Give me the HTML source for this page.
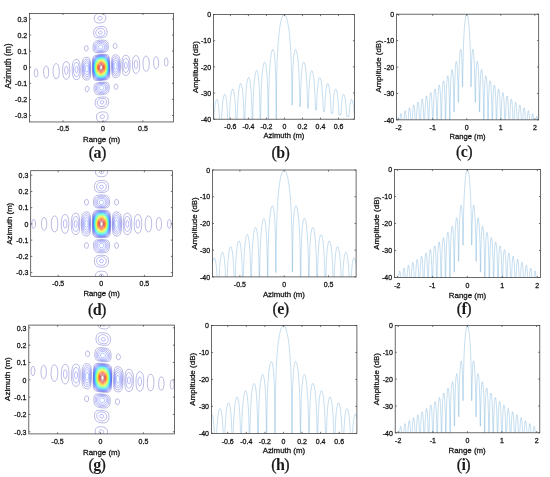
<!DOCTYPE html>
<html><head><meta charset="utf-8"><title>Figure</title>
<style>
html,body{margin:0;padding:0;background:#fff;}
svg{display:block;font-family:"Liberation Sans",sans-serif;fill:#141414;}
text{stroke:#141414;stroke-width:0.28px;}
.pr{font-weight:normal;font-size:16px;stroke:#1a1a1a;stroke-width:0.3px;}
.cap{stroke:none;letter-spacing:-0.65px;font-family:"Liberation Serif",serif;font-size:16px;font-weight:bold;fill:#1a1a1a;}
</style></head><body>
<svg width="550" height="477" viewBox="0 0 550 477">
<rect width="550" height="477" fill="#fff"/>
<rect x="29.55" y="13.45" width="144.05" height="108.5" fill="#fff"/>
<text x="63.08" y="131.45" text-anchor="middle" font-size="7.0">-0.5</text>
<text x="103" y="131.45" text-anchor="middle" font-size="7.0">0</text>
<text x="142.93" y="131.45" text-anchor="middle" font-size="7.0">0.5</text>
<text x="27.15" y="118.22" text-anchor="end" font-size="7.0">-0.3</text>
<text x="27.15" y="102.13" text-anchor="end" font-size="7.0">-0.2</text>
<text x="27.15" y="86.04" text-anchor="end" font-size="7.0">-0.1</text>
<text x="27.15" y="69.95" text-anchor="end" font-size="7.0">0</text>
<text x="27.15" y="53.86" text-anchor="end" font-size="7.0">0.1</text>
<text x="27.15" y="37.77" text-anchor="end" font-size="7.0">0.2</text>
<text x="27.15" y="21.68" text-anchor="end" font-size="7.0">0.3</text>
<path d="M63.08 121.95v-1.6M63.08 13.45v1.6M103 121.95v-1.6M103 13.45v1.6M142.93 121.95v-1.6M142.93 13.45v1.6M29.55 115.47h1.6M173.6 115.47h-1.6M29.55 99.38h1.6M173.6 99.38h-1.6M29.55 83.29h1.6M173.6 83.29h-1.6M29.55 67.2h1.6M173.6 67.2h-1.6M29.55 51.11h1.6M173.6 51.11h-1.6M29.55 35.02h1.6M173.6 35.02h-1.6M29.55 18.93h1.6M173.6 18.93h-1.6" stroke="#3a3a3a" stroke-width="0.7" fill="none"/>
<text x="101.6" y="141.6" text-anchor="middle" font-size="7.9">Range (m)</text>
<text transform="translate(11.1 66.05) rotate(-90)" text-anchor="middle" font-size="8.35">Azimuth (m)</text>
<text x="97.2" y="157.6" text-anchor="middle" class="cap"><tspan class="pr">(</tspan>a<tspan class="pr">)</tspan></text>
<clipPath id="ca"><rect x="29.55" y="13.45" width="144.05" height="108.5"/></clipPath>
<g clip-path="url(#ca)"><g transform="scale(0.1)" fill="none" stroke-width="2.5">
<path d="M1006 1218l12 0 13-1 11-2 11-4 9-5 6-7 6-7 4-10 2-12 0-13-2-12-4-9-6-7-8-5-10-3-13-2-12 0-13 1-13 3-10 4-8 5-6 5-5 8-3 8-2 11 0 12 2 12 5 11 5 7 8 6 9 4zM994 1083l15 1 14-1 16-2 13-4 10-5 9-6 6-8 4-8 4-14 2-15-1-16-4-14-6-9-8-6-11-4-13-2-15 0-16 1-16 2-12 3-10 4-7 5-7 6-4 8-4 14-1 16 1 15 5 14 6 10 7 7 10 5zM987 948l17 0 19-1 18-3 14-3 11-5 8-5 7-7 5-9 5-17 2-20-1-23-5-16-5-8-8-6-12-3-17-1-40 2-19 3-14 3-10 3-7 4-6 5-5 8-4 15-1 20 2 22 5 17 6 10 8 7 12 5zM868 917l8 0 4-2 3-3 5-8 2-9 0-12-2-10-5-6-7-3-8 1-7 4-5 7-3 9 0 12 3 9 5 7zM1153 892l8 1 8-3 6-7 3-10 1-11-1-9-5-8-7-4-7-1-8 2-5 5-3 8-2 11 2 12 5 9zM963 805l18 1 28-1 28-3 23-4 13-4 9-6 7-6 4-10 3-10 2-14 2-42-2-72-4-48-4-18-3-8-3-5-5-4-5-3-14-4-19-1-26 1-29 3-22 4-13 4-9 5-7 7-5 9-3 10-2 14-2 41 2 71 4 50 4 20 2 6 4 6 5 5 5 3zM860 800l12 0 12-2 8-5 5-7 4-7 3-13 2-15 1-22 0-40-1-42-3-30-3-20-5-12-7-7-9-5-13 0-11 2-12 4-8 7-5 8-5 11-3 14-2 18-2 22 0 34 2 33 3 25 4 18 5 13 7 9 9 6zM758 796l9 0 9-2 8-4 7-8 4-9 4-11 2-14 1-19 1-28-1-31-3-26-3-19-4-12-6-10-8-6-10-3-9 1-10 3-8 6-6 9-5 9-3 12-3 16-2 18 0 27 1 28 3 23 4 17 5 13 6 10 8 6zM656 791l8 1 8-1 6-4 7-7 5-8 3-10 3-14 1-17 1-24-1-23-2-20-3-17-4-13-6-9-7-6-8-3-8 0-8 3-6 4-6 8-5 10-3 10-3 14-1 16-1 20 1 22 2 18 3 17 5 13 5 9 6 7zM557 786l6 1 6-1 7-4 5-6 5-9 3-10 3-26 1-18-1-18-2-16-3-14-3-9-5-9-6-7-7-3-6 0-7 2-6 5-5 6-4 9-3 9-2 13-2 14 0 32 2 16 3 14 4 11 5 9 5 6zM457 780l5 1 5-1 5-3 5-5 3-6 3-9 3-22 0-27-4-24-3-9-4-7-5-5-5-2-4-1-5 2-5 3-5 6-3 7-3 8-4 21 1 25 3 23 4 10 4 7 5 5zM1144 776l10 1 12-2 11-4 8-5 6-8 5-9 4-11 2-14 2-26 1-36-2-37-3-28-4-18-6-13-7-9-9-6-10-2-11-1-11 3-8 3-6 6-4 6-4 9-2 13-2 28 0 40 1 47 3 32 4 19 5 11 6 7zM359 771l4 0 3-1 3-3 3-4 5-12 2-16-1-17-3-15-3-7-3-5-3-2-3-2-3 0-4 2-3 3-4 4-4 13-2 15 1 17 3 14 6 11 3 4zM1250 754l9 1 9-2 9-4 7-6 5-8 5-11 3-12 2-16 2-24 0-28-2-27-3-21-5-16-5-11-7-9-8-5-9-2-10 0-8 3-7 5-6 7-4 9-3 11-2 15-2 27 0 31 2 29 3 25 4 16 5 11 7 7zM1359 734l8-2 8-4 7-6 5-8 4-10 3-12 2-16 1-17 0-20-2-20-2-18-4-15-4-11-6-9-7-6-8-3-8 0-8 3-6 4-7 9-4 10-3 13-2 15-1 17 0 23 1 22 3 20 4 14 4 11 6 9 8 5zM1459 712l6-1 7-2 6-6 5-8 4-9 2-11 3-28 0-17-1-17-2-14-4-13-4-9-5-7-6-6-6-2-7 0-6 2-7 6-4 7-4 9-3 11-3 30 2 34 2 15 3 13 4 9 5 7 6 5zM1559 689l6-1 4-2 5-4 4-6 6-15 3-24-1-24-4-22-3-8-5-8-5-4-4-3-5 0-5 1-5 4-5 6-3 7-3 10-3 23 1 27 5 22 3 8 4 6 6 5zM1657 661l4 1 3 0 3-2 4-4 6-11 2-14 1-17-3-17-5-12-3-4-4-2-3-1-3 0-3 2-3 3-5 9-3 16-1 17 2 16 5 13 3 4zM963 527l15 1 21 0 22-2 20-3 13-4 9-3 7-4 6-7 3-6 2-6 3-15-1-22-3-20-5-13-6-9-9-7-11-4-13-2-18 0-19 1-19 3-13 4-11 4-8 6-7 7-6 14-4 17-1 22 2 20 4 13 6 7 9 5zM858 509l8 0 6-3 5-5 4-9 0-13-2-11-5-8-6-4-8 1-7 3-6 8-3 10 0 10 2 10 6 7zM1143 484l7 1 8-2 6-5 5-8 1-11-1-10-4-9-6-6-8-2-6 1-7 6-4 7-2 11 1 13 4 8zM971 378l14 1 16 0 17-2 15-3 11-4 9-4 7-6 4-7 5-12 2-14 0-16-4-15-5-11-6-8-9-6-11-4-13-2-14 0-16 2-15 3-11 4-9 5-8 6-5 8-6 12-3 16 0 17 3 14 5 11 7 7 8 5zM980 134l-9 4-8 4-7 6-5 7-4 7-3 10-2 11 1 10 2 10 3 7 4 7 5 4 7 4 8 3 19 2 22-2 10-2 10-3 7-5 6-4 5-7 3-6 3-9 1-11 0-11-3-11-3-8-6-7-5-5-9-4" stroke="#00009f" stroke-width="2.7"/>
<path d="M1014 1185l9 1 8-2 7-5 5-6 1-8-1-8-6-6-6-3-8-1-10 3-6 4-5 7-1 7 2 8 5 6zM1003 1064l9 2 9-1 10-1 8-3 8-4 6-6 5-5 4-8 3-9 1-10-1-9-3-8-4-6-6-5-8-4-8-2-10-1-9 1-10 1-10 3-7 4-6 5-5 6-3 6-3 9 0 10 1 9 3 8 4 6 7 6 6 3zM999 937l14 0 15-1 13-3 11-5 9-6 7-7 5-7 4-11 3-14 0-16-2-12-5-11-7-8-8-4-11-3-14-1-15 0-16 2-13 3-11 3-8 4-6 5-6 8-4 8-2 12 0 16 3 14 5 12 7 10 8 5 11 5zM982 800l22 1 24-3 19-3 16-5 11-7 7-7 7-11 3-13 3-14 1-18 1-47-2-51-2-19-3-15-7-18-5-7-4-5-7-4-6-2-19-3-21-1-24 3-20 3-16 5-11 7-8 8-5 9-4 14-3 14-1 17-1 48 2 51 2 19 3 16 7 17 3 6 5 5 7 4 6 3 10 2zM862 782l9 0 8-2 8-5 5-7 4-9 4-13 2-15 1-21 0-28-2-29-2-22-4-15-4-11-6-8-8-5-9-1-10 2-8 4-7 6-6 9-5 11-3 13-2 17-1 19 0 23 1 22 3 18 4 16 5 12 6 9 8 7zM759 765l6 1 6-1 7-4 4-6 4-7 3-10 4-25 0-17-1-18-2-14-3-14-3-9-5-8-4-5-7-3-6 0-5 2-6 4-5 6-4 8-3 9-4 25 0 30 1 14 3 13 4 10 4 9 5 5zM1146 757l8 1 10-1 8-4 8-7 5-8 5-11 3-12 3-15 1-22 0-25-2-23-3-21-4-14-6-12-7-9-8-5-8-2-9 0-8 3-7 5-5 7-3 7-3 12-2 13-2 23 0 30 2 29 3 22 3 16 5 11 5 7zM660 743l4 1 3-1 3-2 4-4 4-11 2-14 0-17-3-15-5-11-3-3-3-2-4 0-3 1-3 2-3 4-4 11-3 14 1 16 3 15 4 11zM1256 724l6 0 6-2 7-6 4-7 4-9 3-11 3-25-1-30-2-12-3-13-4-9-5-8-6-6-6-3-7 0-6 3-5 4-5 6-3 9-3 11-3 25 1 34 2 14 3 12 3 8 5 8 5 5zM1355 684l4 1 4 0 3-2 3-4 5-10 2-13 1-17-3-16-5-11-5-6-6-1-3 2-4 2-5 10-3 14 0 17 2 15 5 13zM987 521l15 0 16-2 15-2 11-4 8-4 7-5 5-6 4-8 3-12 0-16-2-14-5-12-6-9-8-7-9-5-14-3-12 0-14 1-15 2-11 4-10 6-7 6-6 8-5 9-4 14 0 16 1 14 4 10 6 8 8 6 11 3zM988 364l9 1 12-1 9-2 8-3 8-4 6-5 5-6 3-6 2-9 0-10-2-9-3-8-4-6-7-6-7-3-9-3-9-1-10 1-10 2-8 3-6 4-7 6-4 6-4 8-2 8-1 9 1 9 3 8 5 6 6 5 8 4zM994 201l8 0 8-2 7-5 4-7 1-7-2-7-5-6-6-3-10-1-8 2-6 5-5 6-1 8 2 8 5 6z" stroke="#0000d1" stroke-width="2.7"/>
<path d="M1014 1039l7 1 7-3 5-4 4-6 1-6-2-7-5-4-6-3-8 0-7 3-5 3-3 6-1 6 2 7 4 4zM1006 926l11 0 11-2 9-3 9-4 7-6 6-7 5-7 3-10 1-11 0-10-3-10-4-7-6-6-8-4-10-3-11-1-11 1-11 1-11 3-9 4-7 5-5 5-4 7-3 8-1 11 1 10 2 10 5 9 6 7 8 5 10 4zM989 796l21 0 21-3 18-4 14-7 10-7 7-10 6-13 3-15 4-34 0-44-3-40-6-28-3-9-5-8-4-6-6-5-6-4-8-3-19-3-21 0-21 3-18 5-13 5-9 8-8 10-6 13-4 16-3 34 0 45 3 39 3 15 3 12 7 16 4 6 6 5 6 4 8 3zM867 765l7-1 6-3 6-7 4-8 4-11 2-14 2-35-3-37-3-13-4-11-4-8-5-5-7-3-8 0-6 2-6 5-7 7-4 10-3 11-3 14-2 31 3 31 3 14 4 11 5 8 5 5 7 5zM1150 740l8 0 6-1 6-5 6-7 5-7 4-11 4-25 1-17-1-17-2-17-2-14-5-13-5-9-5-6-7-5-7-2-6 1-7 3-5 5-4 8-4 8-4 25-1 19 1 22 1 18 3 17 4 11 4 10 5 5zM761 726l2 1 4 0 4-3 4-7 3-11 0-14-1-13-4-10-5-5-5-1-5 4-4 8-3 11 0 12 2 12 3 10zM1256 686l3 0 3-1 5-5 3-8 2-13 0-12-2-11-5-9-5-5-5 0-5 5-3 9-2 12 0 13 2 12 4 8zM991 513l11 1 11-1 12-3 10-3 7-4 7-5 5-6 3-8 2-10 0-10-2-11-4-10-6-7-6-6-8-4-12-3-11 0-11 1-10 2-9 4-8 6-6 6-6 8-3 7-2 11 0 11 2 11 3 8 6 6 7 5 8 3zM995 341l7 1 7-1 6-3 5-5 2-6-1-8-3-4-6-5-7-1-8 2-6 4-4 4-2 6 1 7 3 5z" stroke="#0000ff" stroke-width="2.7"/>
<path d="M1006 914l7 0 8-1 8-2 7-3 6-4 5-5 4-5 3-8 2-8-1-8-1-6-3-6-4-5-6-4-7-3-8-1-16 0-8 2-8 4-6 4-5 4-3 5-2 6-1 6 0 8 2 8 3 6 4 6 5 4 6 3zM991 791l19 0 19-2 18-5 13-6 9-8 8-10 5-13 4-16 4-31 0-39-3-36-5-26-7-17-5-7-5-5-7-5-6-3-18-4-19 0-19 2-16 4-15 6-9 7-9 11-6 12-4 17-4 31 0 39 3 36 5 28 8 17 4 6 6 6 6 4 8 4zM862 745l6 1 4-1 5-2 5-6 3-6 3-8 3-20 0-28-4-25-3-9-4-6-4-5-5-2-5-1-5 2-5 4-4 6-7 15-3 21 0 23 4 22 3 9 4 7 5 6zM1151 721l7 1 4-2 5-4 4-6 4-7 3-8 3-22 0-23-4-22-4-9-4-8-5-4-5-3-5-1-4 1-5 3-4 6-6 14-3 21 0 27 4 23 2 8 4 7 4 5zM994 504l16 0 9-2 7-2 7-4 5-4 4-5 3-6 1-7 0-7-1-8-3-7-4-6-5-4-5-3-8-3-8-1-8 0-8 2-7 2-6 4-5 5-5 6-3 6-2 8-1 8 2 8 2 6 4 5 6 4 6 3z" stroke="#0018ff" stroke-width="2.89"/>
<path d="M1009 898l9 0 8-2 7-6 5-7 1-8-2-8-6-6-7-3-9-1-10 3-7 6-4 6-1 9 3 8 6 6zM990 786l17 1 18-1 16-4 14-7 10-8 8-10 6-12 4-18 4-27 0-36-2-33-6-26-7-17-9-12-6-5-7-4-16-4-17-1-18 1-16 4-15 7-9 8-9 10-6 14-4 16-4 29 0 35 2 32 6 27 7 17 5 7 4 5 7 5 6 3zM864 721l4 1 3 0 5-4 4-9 2-13 1-15-3-14-4-11-5-5-3 0-4 1-4 4-5 11-2 12 0 14 2 12 4 10zM1153 698l3 0 3-1 5-5 4-10 2-12 0-14-2-12-4-11-5-5-3-1-3 0-3 2-4 4-3 9-2 12 0 16 2 14 5 10zM1001 492l9-1 9-3 6-4 4-8 1-8-2-8-7-6-8-3-9 0-8 3-7 5-4 8-1 7 2 8 6 6z" stroke="#0044ff" stroke-width="3.08"/>
<path d="M989 782l16 1 18-1 16-4 13-7 10-8 8-11 6-12 4-16 4-26 1-33-3-31-5-25-7-17-9-11-6-5-6-4-15-5-16-1-17 1-16 4-13 6-10 8-8 11-7 13-5 16-3 26-1 33 3 31 5 24 7 16 4 8 5 5 11 9z" stroke="#006cff" stroke-width="3.26"/>
<path d="M997 779l16 0 16-3 15-5 11-7 9-10 7-12 5-15 4-17 2-28-1-29-3-26-6-21-7-14-10-10-13-8-16-4-16 0-16 3-14 5-12 7-8 9-8 12-5 14-4 19-2 26 1 30 3 26 6 21 7 15 10 11 13 7z" stroke="#0094ff" stroke-width="3.45"/>
<path d="M993 774l16 1 16-2 14-4 11-7 10-9 7-12 6-13 3-16 3-25 0-26-3-25-5-22-7-15-9-12-11-7-15-5-14-1-16 2-14 4-12 7-9 9-8 10-5 14-4 16-3 25 0 26 2 25 5 22 7 15 9 12 11 8z" stroke="#00c0ff" stroke-width="3.64"/>
<path d="M999 771l14 0 15-2 13-6 11-8 8-9 7-12 5-14 3-17 2-25-1-25-3-22-6-18-7-14-10-10-11-7-14-4-15 0-14 2-13 5-11 8-8 9-7 12-6 16-3 17-2 25 1 24 3 22 6 19 8 13 9 11 12 6z" stroke="#02e8f4" stroke-width="3.83"/>
<path d="M995 766l14 2 14-2 13-5 11-7 8-8 7-11 6-14 4-15 2-22 0-23-3-22-5-19-6-14-8-10-11-9-13-4-13-2-14 2-13 4-12 7-9 9-7 11-5 13-3 15-3 22 0 23 3 23 5 19 6 14 9 11 11 8z" stroke="#23ffd4" stroke-width="4.01"/>
<path d="M1000 763l13 1 13-3 11-5 10-7 9-9 6-11 5-14 3-17 2-22-1-22-3-18-6-17-6-13-9-9-10-7-12-4-13-1-13 2-13 5-10 7-8 9-7 12-5 14-3 16-2 22 1 21 3 20 5 17 7 13 9 10 12 7z" stroke="#46ffb1" stroke-width="4.2"/>
<path d="M996 758l13 2 12-1 12-4 11-7 8-9 6-10 5-12 4-16 2-20 0-20-3-19-5-17-6-13-8-10-10-7-12-5-12-1-12 2-12 4-10 7-7 7-7 11-5 13-4 15-2 20 0 21 3 18 5 17 6 14 8 10 10 7z" stroke="#66ff90" stroke-width="4.2"/>
<path d="M1001 755l11 1 12-2 10-4 10-7 7-9 6-11 5-13 3-15 2-19-1-18-3-17-5-16-6-12-8-9-10-7-11-3-11-1-13 2-11 5-9 6-7 9-7 12-4 12-3 15-2 19 1 19 3 17 5 15 7 13 8 9 9 6z" stroke="#87ff70" stroke-width="4.2"/>
<path d="M998 751l11 1 11-1 10-3 10-7 7-7 6-10 5-12 4-14 2-17 0-17-3-17-4-16-6-12-7-10-10-7-9-4-12-1-11 1-9 4-10 6-8 9-6 10-4 10-4 14-2 17 0 18 3 17 4 15 6 12 7 10 9 7z" stroke="#aaff4d" stroke-width="4.2"/>
<path d="M1002 748l10 0 11-2 10-4 8-6 6-9 6-10 5-13 2-12 1-16 0-17-3-15-5-14-6-11-7-8-9-6-10-4-9 0-11 2-10 4-8 6-8 9-5 9-4 13-3 14-1 15 0 17 3 16 5 14 6 11 7 7 9 7z" stroke="#caff2c" stroke-width="4.2"/>
<path d="M1000 743l10 1 10-1 9-4 8-5 7-8 6-9 4-11 3-13 2-15-1-16-2-15-4-13-6-11-6-7-7-6-10-4-10-1-9 1-10 3-8 6-6 7-7 10-4 12-3 12-1 14 0 16 2 14 4 13 5 11 7 9 8 6z" stroke="#ebff0c" stroke-width="4.2"/>
<path d="M1005 740l8 0 10-2 8-4 7-7 6-7 5-10 4-10 2-13 1-14-1-14-3-14-4-11-5-9-7-8-8-5-8-3-10 0-8 1-8 4-8 6-7 8-5 9-4 13-2 12-1 14 1 14 2 13 5 12 5 9 8 8 8 5z" stroke="#ffdb00" stroke-width="4.2"/>
<path d="M1003 735l9 1 8-1 8-4 8-6 5-7 5-9 4-11 2-11 1-12-1-14-2-13-4-11-5-9-6-6-7-5-8-3-8-1-10 2-8 4-6 5-6 7-5 8-4 11-2 11-1 12 1 14 2 13 3 10 5 9 7 8 7 5z" stroke="#ffb600" stroke-width="4.2"/>
<path d="M1002 731l8 1 8-1 8-4 6-4 6-6 5-8 3-9 3-11 1-13 0-12-2-11-4-11-5-9-5-7-6-5-8-3-8-1-8 2-7 2-7 6-5 6-5 9-4 8-2 11-1 11 0 12 2 11 3 11 5 9 5 6 6 6z" stroke="#ff9100" stroke-width="4.2"/>
<path d="M1003 726l7 1 8-1 7-3 6-5 5-6 5-7 3-9 2-9 1-11 0-11-2-11-3-9-5-8-4-6-7-5-6-3-7-1-8 1-6 3-6 4-6 6-4 8-4 9-2 9-1 11 0 11 2 11 3 9 4 8 5 6 6 5z" stroke="#ff6800" stroke-width="4.2"/>
<path d="M1004 721l6 1 7-1 6-2 5-4 5-5 4-7 4-8 2-9 1-10-1-11-1-9-3-8-4-7-5-7-5-4-7-2-6-1-7 1-6 3-5 4-5 5-4 7-3 7-2 10 0 19 1 9 3 9 4 7 5 6 4 4z" stroke="#ff4300" stroke-width="4.2"/>
<path d="M1007 717l6 0 6-2 6-3 4-5 7-11 4-15-1-17-2-9-2-7-4-6-5-5-5-3-4-1-7-1-5 1-5 3-5 5-4 4-4 8-4 15 1 18 1 7 4 8 4 6 4 5 5 3z" stroke="#ff1e00" stroke-width="4.2"/>
<path d="M1006 710l6 1 5-1 8-5 6-9 4-14 1-14-3-13-7-11-5-3-3-2-5-1-4 0-5 2-5 4-7 9-4 14-1 15 4 13 6 10 5 4z" stroke="#da0000" stroke-width="4.2"/>
<path d="M1005 703l7 1 8-3 6-7 4-10 1-12-2-11-4-9-7-6-8-1-7 3-7 8-3 9-1 13 2 11 5 9z" stroke="#ad0000" stroke-width="4.2"/>
<path d="M1008 695l5 0 6-3 4-6 2-7 0-7-1-8-4-6-4-4-6 0-5 2-4 6-3 8 0 8 1 8 4 6z" stroke="#800000" stroke-width="4.2"/>
</g></g>
<rect x="29.55" y="13.45" width="144.05" height="108.5" fill="none" stroke="#3a3a3a" stroke-width="0.75"/>
<rect x="213.55" y="14.55" width="140.95" height="104.65" fill="#fff"/>
<text x="230.4" y="128.8" text-anchor="middle" font-size="7.0">-0.6</text>
<text x="248.42" y="128.8" text-anchor="middle" font-size="7.0">-0.4</text>
<text x="266.43" y="128.8" text-anchor="middle" font-size="7.0">-0.2</text>
<text x="284.45" y="128.8" text-anchor="middle" font-size="7.0">0</text>
<text x="302.47" y="128.8" text-anchor="middle" font-size="7.0">0.2</text>
<text x="320.48" y="128.8" text-anchor="middle" font-size="7.0">0.4</text>
<text x="338.5" y="128.8" text-anchor="middle" font-size="7.0">0.6</text>
<text x="211.15" y="17.3" text-anchor="end" font-size="7.0">0</text>
<text x="211.15" y="43.46" text-anchor="end" font-size="7.0">-10</text>
<text x="211.15" y="69.62" text-anchor="end" font-size="7.0">-20</text>
<text x="211.15" y="95.79" text-anchor="end" font-size="7.0">-30</text>
<text x="211.15" y="121.95" text-anchor="end" font-size="7.0">-40</text>
<path d="M230.4 119.2v-1.6M230.4 14.55v1.6M248.42 119.2v-1.6M248.42 14.55v1.6M266.43 119.2v-1.6M266.43 14.55v1.6M284.45 119.2v-1.6M284.45 14.55v1.6M302.47 119.2v-1.6M302.47 14.55v1.6M320.48 119.2v-1.6M320.48 14.55v1.6M338.5 119.2v-1.6M338.5 14.55v1.6M213.55 14.55h1.6M354.5 14.55h-1.6M213.55 40.71h1.6M354.5 40.71h-1.6M213.55 66.88h1.6M354.5 66.88h-1.6M213.55 93.04h1.6M354.5 93.04h-1.6M213.55 119.2h1.6M354.5 119.2h-1.6" stroke="#3a3a3a" stroke-width="0.7" fill="none"/>
<text x="283.9" y="138.3" text-anchor="middle" font-size="7.6">Azimuth (m)</text>
<text transform="translate(197.8 67) rotate(-90)" text-anchor="middle" font-size="7.85">Amplitude (dB)</text>
<text x="280.4" y="157.6" text-anchor="middle" class="cap"><tspan class="pr">(</tspan>b<tspan class="pr">)</tspan></text>
<clipPath id="cb"><rect x="213.55" y="14.55" width="140.95" height="104.65"/></clipPath>
<g clip-path="url(#cb)"><path transform="scale(0.1)" d="M2136 1222l1 0 6-98 4-40 4-33 4-25 4-17 5-10 2-3 2-1 3 1 2 3 4 11 4 19 4 26 7 72 5 95 17 0 6-119 4-46 4-38 4-32 5-24 5-14 3-4 3-1 2 1 3 4 5 14 4 22 4 32 4 39 3 47 6 118 0 1 13 0 6-140 4-56 4-47 5-38 5-27 6-17 2-5 3-1 3 2 3 4 5 17 5 28 5 39 3 45 4 57 5 139 10 0 6-166 4-64 4-52 5-45 6-33 3-11 3-9 3-5 3-1 2 1 3 4 5 14 5 24 4 33 5 53 4 69 3 78 2 110 8 0 3-110 3-81 3-70 5-63 5-52 6-38 3-14 4-10 3-6 4-2 3 1 2 5 6 19 5 31 5 41 4 61 4 79 3 93 2 113 0 3 6 0 2-125 3-91 4-88 4-70 6-60 6-44 4-16 3-12 4-7 2-2 1 0 4 2 3 6 3 9 3 14 6 37 4 50 5 74 3 86 2 97 2 140 5 0 2-139 2-114 4-98 4-84 6-70 7-52 4-19 4-14 4-9 2-2 2 0 3 2 4 7 3 11 3 17 6 46 5 60 4 81 3 102 2 121 2 151 0 3 2 0 2-173 3-143 3-114 5-96 6-83 8-64 4-23 5-17 4-10 2-3 3-1 1 1 2 2 4 8 4 14 3 19 5 52 5 74 3 80 3 99 1 144 2 234 1 0 2-291 3-192 5-167 8-136 6-65 6-57 6-49 8-42 8-33 9-24 4-9 5-6 4-4 5-1 4 0 4 3 4 5 4 7 8 20 8 29 7 36 7 42 6 49 5 55 9 118 6 144 4 172 2 224 3 1 0-8 1-141 3-115 2-90 4-74 5-55 5-41 3-14 3-10 4-6 1-1 2-1 4 4 4 9 4 14 4 19 7 49 6 68 5 81 3 93 3 106 2 128 6 1 0-1 2-110 3-99 3-78 5-63 4-41 5-31 3-11 3-7 3-4 3-1 3 3 4 6 3 11 3 15 6 40 6 54 4 63 4 75 3 90 2 104 8 2 1-3 2-97 3-86 4-67 5-52 4-32 5-23 5-13 3-4 2 0 3 2 3 5 6 22 6 33 5 46 4 53 4 65 6 165 10 2 5-141 4-54 4-45 4-37 5-26 5-16 3-4 3-1 3 2 3 4 5 18 5 29 5 39 5 48 3 53 6 145 13 3 6-123 3-47 4-39 4-32 5-23 5-13 2-3 3-1 3 2 2 4 5 16 5 26 5 33 4 44 4 49 5 120 16 3 6-107 3-41 3-32 4-27 5-20 5-12 2-2 3-1 2 2 2 4 5 13 5 22 4 29 7 78 6 107 19 4 6-91 6-63 4-23 4-17 4-9 3-3 2 0 2 1 2 3 5 12 4 18 4 24 7 66 6 94 22 4 6-74 6-53 4-20 4-14 4-8 1-1 3-1 2 2 2 2 4 10 3 14 4 21 7 54 6 79" fill="none" stroke="#0072BD" stroke-width="2.3000000000000003" stroke-linejoin="round"/></g>
<rect x="213.55" y="14.55" width="140.95" height="104.65" fill="none" stroke="#3a3a3a" stroke-width="0.75"/>
<rect x="396.6" y="14.2" width="142.1" height="105.65" fill="#fff"/>
<text x="398.65" y="129.75" text-anchor="middle" font-size="7.0">-2</text>
<text x="432.7" y="129.75" text-anchor="middle" font-size="7.0">-1</text>
<text x="466.75" y="129.75" text-anchor="middle" font-size="7.0">0</text>
<text x="500.8" y="129.75" text-anchor="middle" font-size="7.0">1</text>
<text x="534.85" y="129.75" text-anchor="middle" font-size="7.0">2</text>
<text x="394.2" y="16.95" text-anchor="end" font-size="7.0">0</text>
<text x="394.2" y="43.36" text-anchor="end" font-size="7.0">-10</text>
<text x="394.2" y="69.77" text-anchor="end" font-size="7.0">-20</text>
<text x="394.2" y="96.19" text-anchor="end" font-size="7.0">-30</text>
<text x="394.2" y="122.6" text-anchor="end" font-size="7.0">-40</text>
<path d="M398.65 119.85v-1.6M398.65 14.2v1.6M432.7 119.85v-1.6M432.7 14.2v1.6M466.75 119.85v-1.6M466.75 14.2v1.6M500.8 119.85v-1.6M500.8 14.2v1.6M534.85 119.85v-1.6M534.85 14.2v1.6M396.6 14.2h1.6M538.7 14.2h-1.6M396.6 40.61h1.6M538.7 40.61h-1.6M396.6 67.02h1.6M538.7 67.02h-1.6M396.6 93.44h1.6M538.7 93.44h-1.6M396.6 119.85h1.6M538.7 119.85h-1.6" stroke="#3a3a3a" stroke-width="0.7" fill="none"/>
<text x="467.5" y="139.4" text-anchor="middle" font-size="7.65">Range (m)</text>
<text transform="translate(380.6 66.4) rotate(-90)" text-anchor="middle" font-size="7.9">Amplitude (dB)</text>
<text x="463.9" y="157.2" text-anchor="middle" class="cap"><tspan class="pr">(</tspan>c<tspan class="pr">)</tspan></text>
<clipPath id="cc"><rect x="396.6" y="14.2" width="142.1" height="105.65"/></clipPath>
<g clip-path="url(#cc)"><path transform="scale(0.1)" d="M3966 1164l1-1 2 1 3 11 2 21 3 32 21 0 3-43 3-28 3-18 2-4 2 0 2 8 3 19 5 66 18 0 4-57 3-35 3-23 2-5 2-1 1 3 2 6 3 24 3 36 3 52 16 0 3-68 3-45 4-28 2-6 1-2 1 0 2 3 2 7 3 29 4 44 3 66 13 0 3-78 4-54 4-34 2-9 1-2 1-1 3 3 2 10 4 33 3 54 3 78 12 0 3-90 4-65 4-40 3-10 1-2 1 0 3 4 2 11 4 39 3 64 3 89 10 0 4-107 4-70 5-46 2-11 1-3 2-1 2 5 2 11 5 47 4 76 2 99 9 0 4-117 4-79 4-55 3-13 2-4 1-1 1 1 2 4 2 13 5 54 4 84 3 113 7 0 3-126 5-97 2-36 3-24 3-15 1-3 2-1 1 1 1 5 3 15 3 25 2 35 4 93 3 128 6 0 3-142 5-106 2-39 3-28 3-17 1-4 2-2 2 2 1 4 3 18 5 64 4 99 3 151 5 0 3-159 5-116 2-43 3-33 3-19 2-5 2-1 1 1 1 3 3 14 5 54 2 53 3 73 3 178 4 0 3-177 4-129 3-49 3-36 4-22 1-5 2-2 2 2 1 5 3 17 3 28 2 38 5 132 2 194 1 4 3 0 3-198 4-143 3-54 4-42 3-25 2-6 2-2 2 2 1 5 3 21 3 34 2 43 5 142 3 223 2 0 3-210 4-155 2-62 3-49 4-35 3-18 2-3 2 1 2 6 1 9 4 32 3 46 4 132 3 197 3 0 3-218 5-156 5-84 3-28 3-14 2-3 2 1 2 5 1 9 3 29 3 45 5 132 2 185 4 0 3-227 5-163 5-89 3-28 4-18 1-3 2-1 1 3 2 5 3 21 2 33 3 49 2 69 3 195 3 0 2-170 3-139 3-116 5-102 6-85 7-63 3-23 4-15 4-10 2-2 2-1 2 1 2 3 4 9 4 16 3 24 7 63 6 86 5 104 4 119 2 127 2 174 3 0 3-193 2-70 3-49 2-34 3-20 2-6 1-3 2 1 2 4 3 18 3 29 5 91 5 156 3 230 4 0 3-194 4-122 2-45 4-30 1-9 2-5 2-1 2 3 3 14 3 27 5 84 5 154 3 214 0 7 3 0 3-195 4-132 3-47 3-32 2-10 2-6 2-1 2 4 3 18 4 33 3 49 2 61 4 154 3 213 2 0 1-4 2-216 5-149 2-42 3-33 3-20 2-5 1-1 2 2 2 6 3 25 4 41 3 54 4 141 3 201 3 0 3-196 2-76 3-61 2-37 3-27 3-17 1-4 2-2 2 2 1 5 4 22 3 35 2 49 5 128 3 179 4 0 4-184 4-119 5-55 3-14 1-3 2-1 1 1 2 6 3 19 3 35 3 43 4 111 3 161 5 0 0-2 3-138 4-109 5-65 3-17 1-5 2-2 2 2 1 4 3 18 3 29 3 40 4 101 3 144 6 0 3-134 4-90 3-34 2-25 3-14 1-4 2-1 1 1 1 4 3 16 3 24 3 37 4 92 3 128 7 0 4-118 3-82 5-52 3-13 1-3 1-1 2 1 1 4 3 15 4 52 4 85 4 112 9 0 3-103 3-71 5-47 2-12 1-3 2-2 1 2 1 3 3 11 4 48 4 71 3 103 11 0 0-1 3-87 3-64 5-41 2-11 1-3 1 0 3 3 2 11 4 41 4 66 3 86 12 0 3-77 3-54 4-35 3-9 2-3 2 3 2 8 4 34 4 54 3 79 14 0 2-65 4-47 4-29 1-6 2-2 2 2 2 7 4 29 3 46 3 65 16 0 3-51 3-39 3-23 2-6 2-2 2 2 1 6 4 22 3 37 3 54 18 0 5-69 3-18 1-4 2-2 2 1 1 4 3 18 6 70 21 0 5-48 2-13 1-3 2-1 1 1 1 3 3 12 5 49 8 0" fill="none" stroke="#0072BD" stroke-width="2.3000000000000003" stroke-linejoin="round"/></g>
<rect x="396.6" y="14.2" width="142.1" height="105.65" fill="none" stroke="#3a3a3a" stroke-width="0.75"/>
<rect x="30.7" y="170.7" width="141.7" height="105.65" fill="#fff"/>
<text x="58.2" y="286.2" text-anchor="middle" font-size="7.0">-0.5</text>
<text x="101.3" y="286.2" text-anchor="middle" font-size="7.0">0</text>
<text x="144.4" y="286.2" text-anchor="middle" font-size="7.0">0.5</text>
<text x="28.3" y="275.34" text-anchor="end" font-size="7.0">-0.3</text>
<text x="28.3" y="259.11" text-anchor="end" font-size="7.0">-0.2</text>
<text x="28.3" y="242.88" text-anchor="end" font-size="7.0">-0.1</text>
<text x="28.3" y="226.65" text-anchor="end" font-size="7.0">0</text>
<text x="28.3" y="210.42" text-anchor="end" font-size="7.0">0.1</text>
<text x="28.3" y="194.19" text-anchor="end" font-size="7.0">0.2</text>
<text x="28.3" y="177.96" text-anchor="end" font-size="7.0">0.3</text>
<path d="M58.2 276.35v-1.6M58.2 170.7v1.6M101.3 276.35v-1.6M101.3 170.7v1.6M144.4 276.35v-1.6M144.4 170.7v1.6M30.7 272.59h1.6M172.4 272.59h-1.6M30.7 256.36h1.6M172.4 256.36h-1.6M30.7 240.13h1.6M172.4 240.13h-1.6M30.7 223.9h1.6M172.4 223.9h-1.6M30.7 207.67h1.6M172.4 207.67h-1.6M30.7 191.44h1.6M172.4 191.44h-1.6M30.7 175.21h1.6M172.4 175.21h-1.6" stroke="#3a3a3a" stroke-width="0.7" fill="none"/>
<text x="101.6" y="295.9" text-anchor="middle" font-size="7.7">Range (m)</text>
<text transform="translate(11.8 223.7) rotate(-90)" text-anchor="middle" font-size="7.75">Azimuth (m)</text>
<text x="96.9" y="314.9" text-anchor="middle" class="cap"><tspan class="pr">(</tspan>d<tspan class="pr">)</tspan></text>
<clipPath id="cd"><rect x="30.7" y="170.7" width="141.7" height="105.65"/></clipPath>
<g clip-path="url(#cd)"><g transform="scale(0.1)" fill="none" stroke-width="2.5">
<path d="M1076 2764l-1-13-3-10-4-9-7-8-8-6-10-3-13-3-15-1-14 1-13 2-11 5-8 5-7 8-4 9-3 10-1 13M1006 2673l17 0 15-2 13-3 11-5 8-7 7-9 5-10 2-13 2-16-2-15-3-12-7-11-7-7-11-5-14-3-18-2-17 0-18 2-12 2-11 5-8 6-6 7-4 9-3 12-1 16 2 17 5 14 6 10 8 8 11 6 13 4zM992 2528l20 1 18-1 18-2 13-3 10-4 8-6 6-8 5-11 4-19 1-23-2-21-4-14-7-9-10-6-15-3-19-3-42 0-18 2-14 2-9 4-7 4-5 6-4 8-4 18 0 24 3 21 6 17 7 11 10 7 14 5zM864 2484l7-1 7-6 4-9 2-11-1-12-3-9-6-6-7-3-8 1-8 6-4 8-2 10 1 12 3 9 7 8zM1163 2484l8-1 6-5 5-8 3-10 0-12-3-9-5-7-8-4-8 0-4 1-4 3-4 7-3 10 1 14 3 10 5 7 3 2zM991 2377l27 0 27-1 19-2 14-4 9-5 7-7 5-10 3-14 2-18 2-24 1-70-2-56-2-18-3-13-3-9-3-7-5-5-7-4-7-3-10-3-25-3-27 0-27 1-19 2-14 3-9 5-8 8-4 9-4 13-2 18-2 23-1 71 2 58 2 18 3 13 3 9 3 6 5 5 6 5 8 3 9 3zM862 2360l12-1 11-4 8-7 5-11 4-15 2-23 2-33 0-39-2-57-3-19-4-13-5-10-8-6-11-3-13-1-12 3-11 6-8 9-6 11-4 16-3 22-2 28 0 34 0 30 2 24 4 18 4 15 6 11 8 7 11 6zM1162 2360l12-1 11-3 9-5 7-8 5-10 4-13 3-16 2-21 1-35 0-38-2-28-4-23-4-15-7-11-9-9-12-4-12-2-11 1-9 3-7 5-5 8-4 10-2 14-2 20-2 40 0 49 2 35 3 24 4 14 6 10 5 4 5 2zM748 2345l10 1 9-1 8-4 7-7 5-9 4-11 3-16 2-20 1-31 0-34-2-27-4-20-4-13-6-11-9-7-9-3-12 0-9 3-8 6-6 8-5 10-4 14-3 15-2 19-1 27 1 29 2 24 3 20 5 15 6 11 8 7zM1263 2345l10 1 10-1 8-4 7-7 6-9 5-10 3-14 3-18 2-27 0-29-2-27-3-23-4-15-5-12-8-9-9-7-10-2-9 0-8 3-8 5-6 8-4 9-3 13-3 16-2 29 0 35 1 30 3 24 4 17 5 11 8 8zM650 2333l8-1 8-4 7-7 6-11 3-12 3-17 2-19 1-23-1-23-2-19-3-17-3-12-5-9-6-8-8-4-9-2-8 2-8 4-7 8-6 11-4 13-3 15-2 20 0 21 0 21 2 20 3 15 4 13 5 9 6 8 8 5zM1377 2333l8-1 8-4 8-7 5-9 4-12 4-14 2-18 1-20 0-23-1-19-3-17-4-15-5-12-6-8-8-6-8-3-9 1-8 3-7 6-5 8-4 12-3 14-2 17-2 21 0 24 2 21 2 18 4 16 5 12 6 7 7 5zM540 2318l7 1 7-2 7-5 4-6 5-9 3-11 4-27 1-18-1-20-1-17-3-15-4-11-5-9-6-6-7-3-8-1-6 3-6 4-5 7-4 9-4 10-3 14-1 15 0 35 1 16 3 14 4 12 5 9 5 6zM1477 2318l7 1 7-2 6-3 6-8 5-9 3-10 3-13 2-14 1-18-1-18-1-17-3-15-4-11-5-9-6-8-6-3-8-2-6 2-7 4-4 5-5 9-3 9-3 13-2 15-1 18 0 20 2 17 3 15 3 12 5 9 5 6zM437 2303l6 0 4-1 5-4 5-5 3-7 3-9 4-24 0-28-4-24-3-9-5-9-5-5-4-2-7-1-4 1-5 4-5 6-4 8-3 9-3 24 0 27 4 23 3 9 5 8 5 5zM1585 2303l5 0 5-1 5-4 5-6 4-9 3-9 3-23 0-27-2-12-2-12-4-9-4-8-5-5-5-2-6-1-5 1-5 4-4 6-3 7-3 10-4 22 0 29 4 24 4 9 3 7 5 5zM333 2283l4 1 3-1 6-6 5-11 3-16 1-19-3-16-2-8-3-6-4-4-3-2-3-1-5 1-6 6-5 12-3 17 0 18 3 17 5 12 3 3zM1690 2283l4 1 3-1 5-3 3-5 5-12 2-15 0-17-2-16-5-12-3-4-5-4-3-1-5 1-6 7-5 11-2 17 0 18 2 17 5 11 3 4zM997 2082l43-1 16-1 12-3 10-4 6-5 5-7 3-9 3-20 0-23-4-19-5-15-8-11-11-7-14-4-19-3-21-1-19 1-16 2-12 4-10 5-7 7-6 10-4 10-4 21 0 23 2 18 3 8 3 6 7 7 11 6 16 3zM860 2050l8 1 8-4 5-6 3-11 0-12-3-12-5-7-3-3-5-2-8 1-7 5-5 8-3 10 0 11 3 10 5 7zM1160 2050l8 1 7-4 6-6 4-9 0-12-2-11-6-9-6-5-8-1-7 3-6 7-3 10-1 12 2 12 5 8zM1002 1925l17 0 18-1 14-3 11-4 8-5 6-6 5-9 3-10 2-17-2-16-3-16-7-12-7-8-11-6-14-5-16-2-16 0-16 1-14 4-11 4-8 6-6 8-6 10-3 13-2 16 1 15 4 14 5 11 9 7 9 5 14 4zM955 1707l0 14 1 12 4 10 7 9 8 7 11 4 13 3 16 1 15-1 13-3 11-4 9-7 7-9 4-10 1-12 0-14" stroke="#00009f" stroke-width="2.7"/>
<path d="M1038 2764l-2-10-4-6-8-5-9-2-10 2-8 5-4 8-1 8M1004 2653l11 1 11-1 9-2 8-4 6-4 6-6 4-8 3-8 2-10-1-9-2-9-4-8-6-6-7-4-9-4-9-2-10-1-11 1-9 1-8 3-7 5-6 5-4 7-3 7-2 9 1 11 2 9 5 9 5 6 7 6 8 3zM1004 2517l15 1 15-2 12-3 11-5 8-6 8-9 4-9 4-12 1-15-1-15-3-13-5-9-8-7-9-5-13-3-17-2-16 0-16 1-12 2-11 4-8 5-7 6-4 8-3 11-1 15 1 15 4 14 6 12 8 8 10 6 12 5zM1007 2372l27 0 20-3 16-5 11-7 9-11 5-13 4-20 3-27 1-48-1-47-4-32-5-21-4-8-5-6-6-6-8-4-19-5-27-3-25 0-23 3-15 5-12 7-8 10-6 14-4 20-3 26-1 50 1 48 4 32 3 12 3 9 4 7 5 6 6 5 8 4 19 6zM861 2340l9 0 9-3 7-6 6-10 4-12 3-16 1-21 1-24 0-29-1-24-3-19-4-15-4-10-7-8-9-5-10-1-9 3-10 5-6 8-6 10-5 14-3 15-2 20-1 21 1 24 1 21 3 18 4 15 6 11 7 9 8 6zM1160 2340l9 0 10-3 8-5 6-8 6-11 4-12 3-15 2-18 1-24-1-26-2-23-3-18-5-14-6-10-7-8-10-6-9-2-9 2-8 4-6 5-5 9-3 11-3 15-2 17-1 28 0 31 1 25 4 22 4 14 5 10 7 7zM752 2313l6 1 6-1 6-4 5-6 5-10 3-10 3-27 1-18-1-19-2-15-2-13-4-10-4-8-7-6-6-3-6 0-7 3-6 5-5 6-4 10-3 10-4 27 0 32 2 14 3 13 4 11 5 9 5 5zM1267 2313l6 1 7-1 6-5 5-5 4-9 4-10 3-12 2-15 0-32-2-15-2-13-4-11-4-9-6-7-6-5-7-1-6 1-6 4-5 5-5 9-3 9-4 26-1 18 0 18 2 15 3 15 3 11 5 9 5 5zM650 2281l4 0 3-1 3-3 3-5 4-13 2-15 0-17-4-15-5-11-3-3-3-1-5 0-3 2-6 7-4 12-2 16 1 19 3 14 5 10 4 3zM1377 2281l3 0 4-1 6-8 4-13 2-15 0-17-4-15-5-11-7-4-4 0-3 2-6 7-4 12-2 16 0 17 4 15 4 10 4 3zM994 2074l16 1 16 0 14-1 13-3 9-4 7-5 6-7 4-8 3-14 0-16-2-15-6-14-6-9-9-8-11-6-14-3-15-2-14 1-14 2-11 3-9 5-8 7-6 7-5 11-3 15-1 15 2 15 4 12 6 8 9 6 11 5zM1006 1910l10 0 11-1 10-2 7-4 7-4 5-5 4-7 2-8 2-9-1-10-3-9-4-8-5-6-8-6-8-4-9-2-10-1-11 1-9 2-9 4-6 4-6 7-4 7-3 9-2 11 1 9 2 7 5 8 5 6 7 5 10 4zM995 1707l-2 5-1 6 1 4 3 6 3 3 5 3 4 2 7 1 6-1 5-1 4-3 4-4 2-4 2-6-1-6-2-5" stroke="#0000d1" stroke-width="2.7"/>
<path d="M1009 2626l7 1 7-2 6-4 4-6 1-7-1-6-6-6-6-3-8-1-6 1-6 4-4 6-1 7 2 7 4 5zM1002 2505l11 1 11 0 11-3 10-4 8-5 6-6 5-9 4-9 1-10 0-12-2-11-5-9-6-7-8-5-10-3-11-2-11-1-12 1-11 2-10 3-8 4-5 5-5 7-3 8-2 11 1 12 2 10 5 11 6 7 8 6 9 5zM992 2366l23 1 22-1 17-3 14-6 10-8 8-10 5-14 4-16 4-37 1-47-2-40-6-29-3-10-4-8-4-6-6-6-8-6-8-3-21-5-22-1-22 1-17 3-14 6-10 7-8 10-6 13-4 19-4 37-1 47 3 41 2 15 3 14 7 17 5 6 6 6 8 5 8 3zM858 2321l7 1 8-2 6-4 5-6 4-9 3-11 3-13 1-17 1-21-1-21-1-18-3-15-4-11-5-9-6-6-8-3-8 1-6 2-7 6-6 8-4 10-4 12-3 29-1 18 1 17 2 16 3 14 4 12 5 9 7 6zM1158 2321l6 1 8-2 7-3 6-7 5-7 4-11 4-14 2-13 1-18 0-19-2-18-2-15-4-13-5-10-6-8-7-5-6-2-8-1-6 3-6 5-5 7-3 9-3 12-2 14-2 19 0 23 1 21 3 17 3 13 5 10 5 7zM754 2272l4 1 3-1 4-4 4-8 2-12 1-14-2-13-4-10-5-5-3-1-3 1-5 4-4 8-2 12-1 14 2 13 4 9zM1269 2272l3 1 3 0 5-5 4-9 3-12 0-14-2-12-4-10-5-5-3-1-3 0-5 4-4 9-2 12-1 14 2 13 4 9zM1000 2067l13 1 13-1 11-2 9-3 8-4 6-5 4-6 3-7 2-11 0-12-2-11-4-10-6-8-8-7-9-5-11-3-11-1-11 0-11 2-10 4-8 5-6 7-5 7-4 9-2 11 0 12 2 11 4 9 5 6 8 6 9 3zM1009 1885l7 1 8-2 5-3 4-6 1-8-2-6-5-6-6-3-8-1-6 2-6 4-4 6-1 7 1 6 5 6z" stroke="#0000ff" stroke-width="2.7"/>
<path d="M1009 2493l9 0 8-1 8-2 6-4 6-5 5-6 3-6 2-8 0-7-1-8-2-7-4-7-5-4-7-4-8-3-8-1-17 1-8 2-7 3-6 4-4 6-3 6-2 6 0 7 1 9 3 8 3 6 5 5 7 5 8 3zM995 2361l20 2 20-2 18-4 12-6 10-8 8-12 6-15 4-18 4-35 0-42-3-35-3-15-3-12-7-17-5-6-6-6-6-4-8-4-10-3-11-2-20-2-21 2-17 4-13 6-9 8-8 12-6 15-4 18-4 35 0 42 3 36 6 26 3 9 5 9 5 6 6 6 14 8zM860 2301l7 1 4-1 5-4 4-5 6-15 3-24 0-29-4-24-3-9-4-8-5-5-5-2-6 0-5 3-5 4-4 6-4 8-3 10-3 21 0 26 5 23 3 9 5 7 5 5zM1160 2301l4 1 7-1 4-4 5-5 4-6 3-9 4-21 1-26-4-24-2-9-4-9-5-6-5-4-4-2-7 0-4 3-5 5-6 13-5 22 0 31 3 25 3 11 3 6 5 6zM1006 2058l9 0 9 0 8-2 7-3 6-4 5-5 3-6 2-6 1-8-1-9-2-7-4-7-4-5-7-5-8-4-7-2-10 0-8 1-8 2-6 3-6 5-4 4-3 6-3 8-1 9 0 7 3 8 3 6 5 5 6 4 8 3z" stroke="#0018ff" stroke-width="2.89"/>
<path d="M1009 2476l9 1 9-3 8-7 4-7 0-9-3-8-7-6-8-3-9-1-10 3-7 6-4 7 0 9 3 8 7 7zM996 2357l20 1 19-1 16-5 13-6 9-9 8-12 5-15 5-20 3-33 0-36-3-32-6-26-8-16-4-6-6-6-7-5-7-4-19-5-19-1-19 1-16 4-13 7-10 9-8 12-5 15-5 20-3 33 0 36 3 33 6 25 8 16 5 7 5 5 8 5 7 4zM864 2277l4-1 3-2 5-7 3-11 2-15-2-17-3-13-5-7-3-2-3-1-3 1-3 2-5 7-4 11-1 16 1 15 3 12 6 9zM1164 2277l2 0 3-2 6-7 4-12 2-14-1-15-3-13-5-9-3-3-3-1-3 0-3 2-5 6-4 12-2 15 1 16 3 13 5 9zM1008 2044l10 1 9-3 8-6 3-6 1-9-3-9-6-6-9-4-9-1-8 3-8 5-4 8-1 9 2 7 6 7z" stroke="#0044ff" stroke-width="3.08"/>
<path d="M1009 2354l18-1 18-3 14-7 11-10 8-12 6-17 4-21 3-26 0-32-2-28-5-23-7-18-9-13-6-5-6-5-16-6-19-3-19 1-17 4-14 7-11 9-8 12-6 17-4 21-3 26 0 32 2 28 5 23 7 18 10 14 12 9 16 6z" stroke="#006cff" stroke-width="3.26"/>
<path d="M1005 2349l18 1 17-4 14-6 11-9 8-11 7-14 4-19 4-22 1-31-2-28-5-24-6-18-8-14-12-11-14-7-18-3-17-1-16 3-14 6-11 9-9 11-7 16-4 18-4 22-1 31 2 28 5 24 6 19 9 14 11 10 14 7z" stroke="#0094ff" stroke-width="3.45"/>
<path d="M1003 2345l16 1 16-3 14-5 11-8 9-11 7-13 5-17 3-20 2-27-1-27-4-24-6-20-8-15-10-11-14-8-15-4-16-1-16 3-14 5-11 8-9 9-7 14-5 17-4 21-2 27 1 27 4 24 6 20 8 15 11 11 12 7z" stroke="#00c0ff" stroke-width="3.64"/>
<path d="M1001 2340l15 2 14-2 15-5 11-7 9-10 7-12 5-16 4-19 2-26-1-26-3-22-5-20-8-15-10-12-13-8-14-4-16-2-14 2-14 5-11 8-9 9-7 13-6 16-3 18-2 26 1 26 3 22 5 20 8 15 10 11 12 9z" stroke="#02e8f4" stroke-width="3.83"/>
<path d="M1008 2337l15 0 14-3 12-7 10-8 8-11 6-15 4-18 3-19 0-25-2-22-4-20-6-16-8-13-11-9-12-7-15-3-14 0-14 3-12 6-11 9-8 12-6 14-4 18-3 19 0 25 2 22 4 20 6 17 9 12 11 10 12 6z" stroke="#23ffd4" stroke-width="4.01"/>
<path d="M1005 2333l14 0 13-2 13-5 9-8 8-10 7-13 4-15 4-18 1-23-1-23-4-19-5-17-8-13-9-10-11-7-14-5-14 0-15 2-12 6-10 7-8 11-6 12-4 15-4 18-1 23 1 23 4 19 6 17 7 14 10 10 11 7z" stroke="#46ffb1" stroke-width="4.2"/>
<path d="M1003 2328l13 2 13-2 13-5 9-7 8-10 6-11 5-15 4-17 1-21-1-21-3-20-5-16-7-13-8-10-11-8-13-4-12-2-13 2-13 5-10 7-7 9-7 12-5 15-4 17-1 21 1 21 3 20 5 16 8 14 8 10 11 7z" stroke="#66ff90" stroke-width="4.2"/>
<path d="M1009 2325l12 0 13-3 10-6 9-7 7-11 6-14 4-15 2-18 0-20-2-19-4-17-5-13-7-11-10-9-10-6-13-3-13 0-11 3-11 5-9 9-7 10-6 14-4 15-2 18 0 20 2 18 3 16 6 15 8 12 9 9 11 5z" stroke="#87ff70" stroke-width="4.2"/>
<path d="M1007 2321l11 0 11-2 11-5 9-7 7-9 6-12 4-14 3-16 1-20-2-18-3-17-5-13-7-12-8-9-10-6-11-4-12 0-11 2-10 4-10 8-7 10-6 11-4 14-3 16-1 19 2 18 3 16 5 15 7 12 8 8 9 7z" stroke="#aaff4d" stroke-width="4.2"/>
<path d="M1005 2316l10 1 11-1 9-4 10-6 7-10 6-10 5-12 3-15 1-17-1-18-2-16-5-14-6-12-8-9-10-7-9-4-11-1-11 1-10 4-9 7-8 9-5 10-5 12-3 15-1 17 1 18 3 17 4 13 6 12 8 9 9 7z" stroke="#caff2c" stroke-width="4.2"/>
<path d="M1004 2312l11 1 9-1 10-4 9-6 7-9 6-9 4-12 3-13 1-15 0-17-3-15-4-14-5-10-7-10-10-8-9-4-10-1-11 1-9 4-8 6-8 8-5 10-5 12-3 13-1 17 1 17 2 15 4 13 6 11 7 9 8 6z" stroke="#ebff0c" stroke-width="4.2"/>
<path d="M1012 2309l9-1 9-3 8-5 8-8 6-9 4-11 4-13 1-14 0-15-2-14-3-13-5-11-6-8-8-8-10-5-9-2-10 1-9 3-9 6-7 7-5 9-4 11-4 13-1 14 0 15 2 14 4 13 4 11 7 9 7 6 9 5z" stroke="#ffdb00" stroke-width="4.2"/>
<path d="M1011 2304l8 0 10-3 8-5 6-6 6-9 4-10 4-12 1-12 0-14-1-14-3-12-5-10-6-9-6-6-8-5-10-3-9 0-8 2-8 5-7 7-5 8-5 10-3 12-2 13 0 14 1 14 4 12 4 10 6 9 7 7 8 5z" stroke="#ffb600" stroke-width="4.2"/>
<path d="M1013 2299l8 0 8-3 6-4 7-6 4-8 5-10 3-12 1-12 0-13-2-12-3-12-4-9-6-8-6-5-8-5-8-1-8 0-8 2-8 5-6 7-5 8-4 11-3 10-1 12 0 13 2 13 3 10 4 10 6 7 6 6 8 4z" stroke="#ff9100" stroke-width="4.2"/>
<path d="M1007 2293l6 2 8-1 8-3 6-5 6-6 4-8 4-9 2-10 1-11 0-12-2-11-3-10-5-9-5-7-7-5-7-3-7-2-8 1-7 3-7 5-5 6-4 8-4 9-2 10-1 11 0 12 2 11 3 10 5 9 5 6 6 6z" stroke="#ff6800" stroke-width="4.2"/>
<path d="M1010 2289l6 0 7-1 6-3 6-5 5-6 4-8 2-9 2-9 1-10-1-11-2-9-4-9-4-7-4-6-7-4-6-3-8 0-6 1-6 3-5 4-5 6-5 9-2 9-2 9-1 11 1 10 2 9 4 9 4 8 5 5 7 5z" stroke="#ff4300" stroke-width="4.2"/>
<path d="M1008 2283l7 1 6-1 5-2 5-4 5-6 4-6 4-15 0-19-4-16-3-7-5-6-5-4-5-3-6-1-6 1-6 2-5 4-4 5-4 6-3 8-2 8 0 19 4 16 3 6 4 7 5 4z" stroke="#ff1e00" stroke-width="4.2"/>
<path d="M1010 2277l5 1 4-1 5-2 5-3 7-10 4-14 0-15-3-15-3-6-4-5-4-3-5-3-6-1-5 1-5 2-4 4-7 9-4 14 0 15 3 15 4 6 4 5 4 4z" stroke="#da0000" stroke-width="4.2"/>
<path d="M1010 2269l3 1 5 0 7-4 6-7 4-11 1-12-3-12-5-9-4-4-3-2-8-1-8 3-6 8-4 11-1 12 3 12 5 10z" stroke="#ad0000" stroke-width="4.2"/>
<path d="M1011 2260l5 1 7-3 4-5 2-8 0-9-1-8-4-6-5-4-6-1-5 2-4 6-3 8 0 9 1 8 3 6z" stroke="#800000" stroke-width="4.2"/>
</g></g>
<rect x="30.7" y="170.7" width="141.7" height="105.65" fill="none" stroke="#3a3a3a" stroke-width="0.75"/>
<rect x="212.45" y="170" width="143.65" height="106.9" fill="#fff"/>
<text x="239.9" y="286.5" text-anchor="middle" font-size="7.0">-0.5</text>
<text x="284.2" y="286.5" text-anchor="middle" font-size="7.0">0</text>
<text x="328.5" y="286.5" text-anchor="middle" font-size="7.0">0.5</text>
<text x="210.05" y="172.75" text-anchor="end" font-size="7.0">0</text>
<text x="210.05" y="199.47" text-anchor="end" font-size="7.0">-10</text>
<text x="210.05" y="226.2" text-anchor="end" font-size="7.0">-20</text>
<text x="210.05" y="252.92" text-anchor="end" font-size="7.0">-30</text>
<text x="210.05" y="279.65" text-anchor="end" font-size="7.0">-40</text>
<path d="M239.9 276.9v-1.6M239.9 170v1.6M284.2 276.9v-1.6M284.2 170v1.6M328.5 276.9v-1.6M328.5 170v1.6M212.45 170h1.6M356.1 170h-1.6M212.45 196.72h1.6M356.1 196.72h-1.6M212.45 223.45h1.6M356.1 223.45h-1.6M212.45 250.17h1.6M356.1 250.17h-1.6M212.45 276.9h1.6M356.1 276.9h-1.6" stroke="#3a3a3a" stroke-width="0.7" fill="none"/>
<text x="283.9" y="296.7" text-anchor="middle" font-size="7.8">Azimuth (m)</text>
<text transform="translate(196.6 223.4) rotate(-90)" text-anchor="middle" font-size="7.9">Amplitude (dB)</text>
<text x="280.4" y="314.2" text-anchor="middle" class="cap"><tspan class="pr">(</tspan>e<tspan class="pr">)</tspan></text>
<clipPath id="ce"><rect x="212.45" y="170" width="143.65" height="106.9"/></clipPath>
<g clip-path="url(#ce)"><path transform="scale(0.1)" d="M2124 2633l6-32 4-11 3-7 3-4 3-1 3 3 3 6 4 11 3 16 7 46 5 59 4 80 18 0 7-126 4-48 5-39 5-30 5-21 3-7 3-4 3-1 3 2 4 9 5 16 4 25 4 31 7 82 5 111 14 0 3-78 3-66 4-57 5-47 5-40 6-26 3-9 3-6 3-3 3 1 3 3 3 6 5 19 5 29 4 38 4 45 3 52 5 139 11 0 3-89 3-79 4-67 5-54 5-45 6-33 3-11 4-7 3-4 3 0 3 2 3 5 5 17 4 25 4 32 5 55 4 66 3 79 3 108 8 0 3-108 3-87 4-74 5-64 5-53 7-38 3-13 4-10 3-5 2-1 2 1 3 2 3 6 5 20 5 30 5 42 4 62 4 79 3 93 2 118 7 0 2-135 3-94 4-85 5-72 6-60 6-44 4-15 4-12 4-6 2-1 1 0 4 3 3 6 3 11 3 14 6 39 4 51 5 77 3 88 3 100 2 135 4 0 2-152 3-110 4-102 5-83 6-71 7-53 4-19 4-13 5-8 2-2 2 0 3 4 4 8 3 12 4 18 5 46 5 62 4 83 3 104 3 124 1 152 3 0 2-189 2-129 4-122 5-99 7-86 4-34 4-30 4-23 5-16 5-11 2-2 2 0 2 1 2 2 4 9 3 12 3 19 6 51 5 68 3 73 2 87 2 134 2 212 2 0 2-258 4-194 5-159 4-70 5-65 5-61 7-57 7-48 7-40 9-33 8-22 5-9 5-5 4-4 5-1 4 1 5 4 4 6 5 8 8 23 9 32 7 40 7 47 7 56 5 61 5 64 4 70 5 157 4 188 2 264 2 0 1-195 3-151 2-86 3-71 5-67 6-51 3-18 3-13 4-8 2-2 2-1 2 0 3 3 4 10 5 17 4 24 8 64 7 85 5 101 4 114 2 125 2 198 3 0 2-160 2-120 3-103 4-82 5-61 5-46 4-17 3-13 4-7 3-4 2 0 2 2 5 8 4 13 4 18 7 53 6 71 5 82 4 99 2 108 3 159 4 0 2-140 3-98 3-88 5-75 4-51 6-38 3-15 3-10 3-6 4-3 2 0 1 1 4 7 4 11 4 16 6 44 6 61 5 72 4 85 3 107 2 120 7 0 2-113 3-94 4-81 4-65 5-41 5-31 5-19 3-6 3-2 4 0 3 5 4 9 3 13 7 38 5 52 5 64 4 73 3 85 3 113 8 0 3-103 3-81 4-70 5-55 4-32 5-25 5-16 2-5 3-2 3 0 3 4 4 8 3 10 6 32 5 45 5 53 4 66 3 72 3 99 11 0 5-137 3-53 4-47 4-38 5-28 5-19 3-6 3-3 3-1 3 3 3 6 3 9 6 27 5 38 5 46 4 57 6 146 14 0 5-113 7-81 4-31 4-24 5-17 4-9 3-1 3 1 3 5 3 6 5 21 5 31 5 39 4 48 7 125 18 0 4-78 6-64 6-46 4-16 4-11 3-5 3-1 4 3 3 6 4 11 3 15 6 39" fill="none" stroke="#0072BD" stroke-width="2.3000000000000003" stroke-linejoin="round"/></g>
<rect x="212.45" y="170" width="143.65" height="106.9" fill="none" stroke="#3a3a3a" stroke-width="0.75"/>
<rect x="394.55" y="169.5" width="145.95" height="108" fill="#fff"/>
<text x="397.41" y="287.7" text-anchor="middle" font-size="7.0">-2</text>
<text x="432.38" y="287.7" text-anchor="middle" font-size="7.0">-1</text>
<text x="467.35" y="287.7" text-anchor="middle" font-size="7.0">0</text>
<text x="502.32" y="287.7" text-anchor="middle" font-size="7.0">1</text>
<text x="537.29" y="287.7" text-anchor="middle" font-size="7.0">2</text>
<text x="392.15" y="172.25" text-anchor="end" font-size="7.0">0</text>
<text x="392.15" y="199.25" text-anchor="end" font-size="7.0">-10</text>
<text x="392.15" y="226.25" text-anchor="end" font-size="7.0">-20</text>
<text x="392.15" y="253.25" text-anchor="end" font-size="7.0">-30</text>
<text x="392.15" y="280.25" text-anchor="end" font-size="7.0">-40</text>
<path d="M397.41 277.5v-1.6M397.41 169.5v1.6M432.38 277.5v-1.6M432.38 169.5v1.6M467.35 277.5v-1.6M467.35 169.5v1.6M502.32 277.5v-1.6M502.32 169.5v1.6M537.29 277.5v-1.6M537.29 169.5v1.6M394.55 169.5h1.6M540.5 169.5h-1.6M394.55 196.5h1.6M540.5 196.5h-1.6M394.55 223.5h1.6M540.5 223.5h-1.6M394.55 250.5h1.6M540.5 250.5h-1.6M394.55 277.5h1.6M540.5 277.5h-1.6" stroke="#3a3a3a" stroke-width="0.7" fill="none"/>
<text x="467.5" y="298.1" text-anchor="middle" font-size="7.9">Range (m)</text>
<text transform="translate(378.5 223.3) rotate(-90)" text-anchor="middle" font-size="8.0">Amplitude (dB)</text>
<text x="463.9" y="314.2" text-anchor="middle" class="cap"><tspan class="pr">(</tspan>f<tspan class="pr">)</tspan></text>
<clipPath id="cf"><rect x="394.55" y="169.5" width="145.95" height="108"/></clipPath>
<g clip-path="url(#cf)"><path transform="scale(0.1)" d="M3971 2805l14 0 3-42 3-28 3-19 2-5 1-1 2 1 1 5 3 17 3 29 3 43 19 0 3-55 3-36 3-24 2-7 2-2 2 2 1 6 4 24 3 38 3 54 16 0 3-65 4-48 4-30 2-7 2-3 2 3 2 8 3 29 4 46 3 67 14 0 3-82 4-53 4-35 2-9 1-2 1-1 3 4 2 9 4 35 3 56 3 78 13 0 3-94 4-63 4-41 3-10 1-3 1-1 2 4 3 10 4 43 4 63 3 92 11 0 3-103 4-75 4-48 3-12 1-3 2-2 1 1 1 3 3 12 4 48 4 74 3 105 10 0 3-118 4-82 5-55 3-15 1-3 1-2 2 1 1 4 3 13 5 54 4 86 3 117 8 0 3-132 4-95 5-60 3-16 1-4 2-2 2 2 1 4 3 15 3 28 2 34 4 98 3 128 7 0 3-153 4-102 3-38 3-30 3-17 1-4 2-1 2 2 1 4 3 18 3 30 2 37 4 106 3 146 0 2 6 0 3-169 4-112 3-45 3-33 4-19 1-5 2-2 1 2 2 3 2 14 5 56 5 122 3 186 1 2 4 0 3-185 4-126 3-49 4-39 3-23 2-5 2-2 1 1 2 5 3 17 2 30 3 37 4 134 3 205 4 0 3-203 5-147 3-57 3-40 4-26 2-6 2-2 1 2 2 5 3 22 3 33 2 46 5 147 3 226 3 0 2-211 4-163 3-65 3-48 3-35 4-18 2-4 2 2 2 7 2 11 3 33 3 51 4 136 3 220 3 0 3-241 5-160 6-91 3-30 3-16 2-4 2 1 2 5 2 10 3 31 3 50 4 133 3 204 3 0 3-236 5-170 6-96 3-32 4-20 1-4 2-1 2 3 1 6 3 23 3 34 3 55 2 72 3 204 3 0 2-180 2-140 4-125 5-102 6-89 7-65 4-24 4-17 4-10 2-3 2-1 2 1 2 3 4 10 4 17 4 24 7 66 6 88 5 103 4 126 2 141 2 177 3 0 3-205 3-72 2-54 3-34 3-23 1-6 2-3 2 1 2 4 3 20 3 32 6 97 5 171 3 226 0 8 3 0 3-206 4-132 3-49 3-31 2-10 2-5 1-1 1 0 2 4 3 16 3 31 6 91 5 161 3 239 3 0 2-211 5-145 3-52 3-33 2-11 2-6 2-1 2 3 3 17 4 34 3 46 3 64 4 156 2 223 3 0 3-228 5-146 2-46 3-33 3-21 2-5 2-2 1 2 2 7 4 26 3 40 3 57 5 148 3 201 3 0 1-2 3-205 4-133 3-37 2-29 3-18 2-4 2-1 1 2 2 6 3 21 4 37 2 48 5 132 3 183 5 0 0-5 3-184 5-122 5-55 2-14 2-3 1-2 2 2 2 5 3 20 3 32 3 46 4 113 3 167 6 0 3-149 4-105 2-37 3-30 3-18 1-4 2-2 2 1 1 5 3 18 3 31 3 40 4 106 3 144 7 0 0-2 3-128 4-96 2-35 3-27 3-16 1-3 2-2 1 2 2 4 3 15 2 26 3 36 4 95 3 131 8 0 3-118 4-82 5-56 3-14 1-3 1-2 2 1 1 4 3 14 5 53 4 86 3 117 10 0 0-1 3-105 4-73 4-47 3-12 1-3 1-2 2 1 1 3 2 12 5 49 4 76 3 102 11 0 0-1 3-86 4-68 4-43 3-10 2-4 1 1 1 3 3 11 4 41 4 63 4 93 12 0 3-78 3-57 4-34 2-9 3-4 2 3 2 9 4 35 4 53 3 82 14 0 3-68 4-46 3-29 2-7 2-3 2 3 2 7 4 30 4 48 3 65 16 0 0-1 3-54 3-37 4-24 1-6 2-2 2 2 2 6 3 23 3 39 3 54 19 0 3-43 3-29 3-18 1-4 2-1 1 2 2 5 3 18 6 70 11 0" fill="none" stroke="#0072BD" stroke-width="2.3000000000000003" stroke-linejoin="round"/></g>
<rect x="394.55" y="169.5" width="145.95" height="108" fill="none" stroke="#3a3a3a" stroke-width="0.75"/>
<rect x="28.8" y="325.1" width="145.6" height="108.8" fill="#fff"/>
<text x="57.58" y="444.2" text-anchor="middle" font-size="7.0">-0.5</text>
<text x="100.5" y="444.2" text-anchor="middle" font-size="7.0">0</text>
<text x="143.43" y="444.2" text-anchor="middle" font-size="7.0">0.5</text>
<text x="26.4" y="434.53" text-anchor="end" font-size="7.0">-0.3</text>
<text x="26.4" y="417.2" text-anchor="end" font-size="7.0">-0.2</text>
<text x="26.4" y="399.88" text-anchor="end" font-size="7.0">-0.1</text>
<text x="26.4" y="382.55" text-anchor="end" font-size="7.0">0</text>
<text x="26.4" y="365.23" text-anchor="end" font-size="7.0">0.1</text>
<text x="26.4" y="347.9" text-anchor="end" font-size="7.0">0.2</text>
<text x="26.4" y="330.57" text-anchor="end" font-size="7.0">0.3</text>
<path d="M57.58 433.9v-1.6M57.58 325.1v1.6M100.5 433.9v-1.6M100.5 325.1v1.6M143.43 433.9v-1.6M143.43 325.1v1.6M28.8 431.78h1.6M174.4 431.78h-1.6M28.8 414.45h1.6M174.4 414.45h-1.6M28.8 397.12h1.6M174.4 397.12h-1.6M28.8 379.8h1.6M174.4 379.8h-1.6M28.8 362.48h1.6M174.4 362.48h-1.6M28.8 345.15h1.6M174.4 345.15h-1.6M28.8 327.82h1.6M174.4 327.82h-1.6" stroke="#3a3a3a" stroke-width="0.7" fill="none"/>
<text x="101.6" y="454.7" text-anchor="middle" font-size="7.9">Range (m)</text>
<text transform="translate(10.4 379.2) rotate(-90)" text-anchor="middle" font-size="8.1">Azimuth (m)</text>
<text x="96.9" y="470" text-anchor="middle" class="cap"><tspan class="pr">(</tspan>g<tspan class="pr">)</tspan></text>
<clipPath id="cg"><rect x="28.8" y="325.1" width="145.6" height="108.8"/></clipPath>
<g clip-path="url(#cg)"><g transform="scale(0.1)" fill="none" stroke-width="2.5">
<path d="M1075 4339l1-16-1-14-5-12-7-11-11-8-14-6-16-4-18-1-15 1-13 3-9 6-7 8-5 10-3 14 1 16 3 14M1019 4228l19 1 14-2 12-4 9-7 8-9 5-13 3-15 1-16-2-14-4-12-5-10-7-7-10-6-13-5-16-3-18-3-18 0-16 1-11 3-10 6-6 7-5 10-3 14-1 16 2 16 3 14 6 10 7 9 10 7 13 6 16 4zM1024 4079l22 1 18-2 13-5 9-7 8-10 5-16 3-20 1-22-2-15-3-11-6-10-7-6-10-5-14-4-20-4-24-3-24-1-18 1-13 2-10 5-7 9-4 13-2 17 0 20 1 17 4 16 6 12 9 9 11 7 14 5 18 4zM1170 4046l7 1 8-4 6-8 3-9 1-11-2-11-5-9-8-5-8-2-8 3-5 6-3 9-1 14 2 12 6 9zM865 4017l8-1 6-4 5-9 2-13 0-12-4-10-6-7-8-3-8 1-7 5-5 8-2 11 1 12 4 11 7 8zM1058 3923l24-1 8-2 6-4 5-4 4-6 4-7 2-10 3-17 2-23 3-72 0-62-2-20-2-16-5-12-6-10-7-6-11-5-16-5-22-4-30-3-25-1-25 1-8 3-6 3-5 4-4 5-4 8-2 10-3 17-2 23-3 72 0 62 2 20 2 16 4 12 6 10 7 6 11 5 17 5 22 4 29 3zM1178 3919l14-1 10-4 9-7 7-9 5-14 3-17 3-23 2-30 1-35-1-31-2-24-4-18-6-15-8-10-10-7-13-5-12-2-12 2-8 4-6 8-5 12-3 16-3 23-2 30-1 43 1 39 1 26 4 19 5 13 7 9 12 6zM1281 3914l11 1 10-2 8-5 8-8 5-10 4-13 4-17 2-21 1-29 0-30-1-25-4-19-4-16-7-11-8-9-10-5-11-3-10 2-8 4-6 6-5 9-4 13-3 15-3 21-2 32 0 33 2 28 3 20 4 16 6 11 8 8zM1391 3911l10 1 8-3 6-4 7-8 5-9 4-14 3-18 2-18 1-24 0-23-2-20-4-17-4-13-5-9-8-9-8-4-10-2-8 2-7 4-6 8-5 10-3 11-4 17-2 19-1 25 1 25 1 22 3 17 5 13 6 10 7 7zM1504 3908l7-1 6-3 7-7 5-8 4-11 3-14 2-15 1-17-1-35-2-15-4-13-4-11-6-7-6-6-7-2-8 0-6 2-7 7-5 8-4 11-3 14-3 34 0 20 1 17 3 16 3 12 5 10 5 7 6 5zM1609 3902l5 0 5-1 5-4 5-6 5-10 2-9 4-25 0-28-2-12-3-12-3-9-5-8-4-5-5-3-7-1-5 2-5 3-4 7-4 7-3 11-3 25 0 29 4 24 3 9 4 7 5 6zM1718 3892l5 0 3-1 7-9 4-13 3-17-1-19-3-16-3-7-3-5-4-3-3-2-5 0-3 2-3 3-4 5-4 14-2 17 0 19 3 15 3 8 4 5 3 3zM863 3888l13 1 11-2 8-5 7-10 4-14 3-19 3-28 1-37 1-40-1-32-2-23-4-16-5-11-8-8-12-5-13-2-13 2-11 4-8 8-6 11-5 15-3 19-3 27-1 31-1 32 2 28 2 22 4 17 6 14 8 10 10 6zM755 3863l11 0 9-2 9-7 5-8 5-13 3-17 3-22 1-28 1-31-1-26-2-22-4-16-5-12-7-10-9-5-11-3-10 1-10 3-8 7-6 11-5 13-4 17-3 22-1 25-1 28 2 25 2 20 4 15 5 13 7 10 10 8zM646 3838l10 1 8-3 6-4 6-8 5-11 4-14 2-17 2-19 1-25-1-23-2-20-3-18-4-12-7-10-6-6-9-4-9-1-10 4-6 5-7 9-4 11-4 14-3 17-2 19 0 23 0 22 2 18 4 18 5 12 6 10 8 8zM539 3813l8 1 7-2 6-6 5-6 4-10 4-13 4-31 0-20-1-19-1-16-4-14-4-12-5-8-7-6-6-2-8 0-7 2-6 6-5 7-5 10-3 13-2 14-2 17 0 19 0 17 2 15 4 14 4 11 5 9 7 6zM433 3786l6 1 4-2 5-3 5-7 4-7 3-11 3-27 0-29-4-24-4-9-4-6-4-5-7-3-6 0-5 2-5 5-5 7-3 8-3 12-3 24 0 26 5 24 3 9 4 7 5 5zM326 3755l4 1 3-1 4-2 3-4 5-12 3-17 0-19-2-17-3-8-3-6-3-4-4-2-3-1-5 2-6 6-5 11-3 18 0 20 3 17 5 12 3 4zM1046 3617l23 0 14-2 12-4 4-4 4-4 3-6 2-7 3-18 0-24-3-21-4-13-5-9-8-9-9-6-13-5-17-5-19-2-19-2-20 1-16 4-11 6-8 9-7 15-4 20-1 25 3 20 3 10 5 7 7 7 8 4 13 5 17 3zM1177 3597l8 1 8-3 7-6 3-10 1-12-3-11-5-9-7-6-4-2-5 0-6 3-6 6-4 11 0 13 2 11 5 9zM872 3567l4 1 5-1 6-3 5-6 3-11 0-13-3-12-5-8-8-5-8 0-7 5-6 8-3 11 0 11 3 11 6 7zM1026 3452l18 1 17 0 12-2 11-4 8-6 6-8 4-11 2-12 1-17-2-16-5-14-6-11-9-8-11-7-15-5-18-4-16-1-16 1-13 2-11 5-8 7-7 9-4 12-3 14-1 16 2 15 4 13 6 9 9 8 12 6 15 5zM976 3251l4 8 4 8 7 6 8 6 10 4 11 3 13 2 13 1 11 0 10-2 8-3 7-4 6-6 4-6 3-8 2-9" stroke="#00009f" stroke-width="2.7"/>
<path d="M1027 4339l6-5 3-6 1-6-1-8-4-6-5-5-7-3-8-1-8 1-6 3-4 5-3 6 0 8 2 6 5 6 7 5M1015 4208l10 1 10-1 8-3 8-5 6-5 5-8 3-8 2-10 0-9-2-9-4-8-5-8-7-5-8-5-10-3-10-2-11-1-10 1-9 2-8 4-6 4-4 7-4 7-1 10 0 11 2 9 4 9 6 8 6 6 8 5 10 4zM1016 4067l17 1 15-2 11-3 10-6 8-8 6-10 4-13 2-14 0-14-2-12-5-11-5-8-10-7-11-5-15-4-18-3-18-1-14 0-11 3-10 4-7 5-6 8-3 11-2 12 0 16 3 15 5 13 7 10 9 9 11 6 14 5zM1038 3917l27-1 10-2 8-3 7-4 6-5 4-7 4-7 4-13 2-14 4-39 2-57-2-47-3-20-4-17-7-13-9-9-13-8-16-5-23-5-25-2-26 0-12 2-8 3-7 4-6 5-5 7-4 8-3 11-3 16-4 39-2 57 2 47 3 20 4 17 7 13 9 9 12 8 18 6 23 4zM1177 3899l10-1 8-4 8-6 7-10 5-12 4-16 2-18 2-22 1-25-1-23-3-21-4-17-5-13-6-10-8-7-10-5-10-2-10 3-7 5-6 7-4 12-4 14-2 20-2 24-1 30 1 28 2 22 3 17 4 11 7 9 8 6zM1285 3881l7 0 7-2 6-6 5-7 4-10 3-10 4-28 0-33-2-16-3-12-4-11-4-8-6-7-7-4-6-1-7 1-6 4-5 7-4 10-4 10-4 30 0 36 2 15 3 14 4 12 5 8 6 6zM864 3867l10 1 10-2 6-5 7-9 4-11 3-16 3-21 1-24 1-29-1-27-2-22-3-15-5-13-7-9-9-5-9-3-10 1-10 5-7 7-6 9-5 12-4 16-3 19-1 23-1 25 2 23 2 19 4 17 5 12 6 10 9 8zM1394 3858l3 1 5-2 6-7 5-12 2-16 0-18-3-16-5-11-3-4-3-2-5-1-3 2-6 7-5 12-2 16 0 17 3 17 5 12 3 3zM760 3830l7-1 6-4 6-6 4-9 4-13 2-14 2-34-2-33-2-12-4-11-4-8-7-7-6-3-7-1-6 2-7 5-5 7-4 10-4 12-3 14-2 31 3 30 2 12 4 11 4 9 6 7 6 4zM649 3785l3 1 4-1 3-2 4-4 4-11 3-17 0-19-3-17-5-12-3-3-3-2-4-1-3 1-3 2-4 6-5 12-2 16 0 17 3 17 5 11zM1036 3609l16 0 15-2 11-4 8-5 6-8 4-11 2-14 0-15-3-14-3-11-7-11-7-8-9-6-13-6-15-4-16-1-16 0-13 2-12 5-8 7-8 11-5 13-2 15 0 16 2 12 4 9 5 8 8 7 10 6 12 4 16 3zM1027 3436l11 1 11 0 9-2 7-4 7-5 5-6 3-7 2-9 0-11-2-10-3-9-5-7-7-7-8-5-9-5-10-2-11-1-10 1-9 3-7 3-7 6-5 6-4 10-2 9 0 9 2 10 3 7 5 8 6 6 8 5 10 4zM1020 3251l8 5 10 1 9-1 7-5" stroke="#0000d1" stroke-width="2.7"/>
<path d="M1016 4180l7 0 7-3 5-5 2-7-1-7-3-6-5-4-8-4-8 0-7 2-4 5-3 7 1 8 3 7 7 5zM1013 4054l12 1 11 0 12-3 8-4 8-6 5-8 5-9 2-11 1-11-2-11-3-9-5-8-7-6-9-6-12-4-12-3-13-1-12 1-11 2-8 3-7 4-5 7-4 7-2 10-1 11 2 12 4 11 5 9 7 8 9 6 10 5zM1021 3911l25 1 19-2 15-6 6-5 6-5 8-14 6-20 4-28 2-35 0-40-2-33-4-25-7-18-5-8-5-6-14-10-19-7-26-5-25-1-21 2-14 6-7 5-5 5-8 14-6 20-4 28-2 36 0 40 2 35 5 25 7 17 4 6 6 7 6 5 8 5 20 7zM1173 3878l7 1 8-2 7-5 6-8 5-10 4-12 3-14 2-15 1-19-1-18-2-18-3-15-4-11-5-11-7-8-7-4-8-2-7 1-6 4-5 5-5 9-3 10-3 15-2 17-1 22 0 21 1 19 3 17 4 11 4 10 7 7zM868 3849l8 0 6-3 7-7 5-9 3-11 3-15 3-38-1-39-3-15-3-13-4-9-6-7-7-5-8-1-8 2-7 4-6 7-5 9-4 13-4 14-2 16-1 18 1 17 1 17 3 16 4 12 4 10 6 8 7 5zM1284 3838l3 1 4 0 5-4 4-8 3-14 1-14-2-13-4-10-6-7-3-1-3 1-5 5-4 8-2 12-1 14 2 13 3 10zM757 3786l4 2 3-1 5-5 4-8 2-12 1-14-2-14-3-9-6-7-2-1-4 0-5 4-4 9-3 13-1 14 2 12 4 11zM1023 3600l13 1 12 0 11-3 8-3 7-5 5-6 4-8 2-9 0-11-1-12-4-11-6-10-7-7-9-7-10-4-12-3-11-1-11 0-10 2-10 5-7 6-6 8-5 9-2 11-1 11 2 11 3 9 5 8 7 6 9 6 11 4zM1029 3411l7 1 8-2 5-5 3-6 0-8-3-6-6-6-7-3-8 0-6 2-6 5-3 7 1 7 3 7 5 4z" stroke="#0000ff" stroke-width="2.7"/>
<path d="M1019 4042l9 0 8-1 7-3 7-4 6-6 3-7 3-7 1-8-1-8-2-8-3-6-5-5-6-6-7-3-8-3-9-2-10 0-8 1-8 3-5 3-6 4-4 7-2 6-1 8 1 9 2 8 3 6 5 7 6 5 7 5 8 3zM1022 3906l21 1 19-3 15-6 6-5 5-5 8-14 7-21 4-26 2-34 0-36-3-31-4-24-7-17-5-8-6-6-6-5-8-5-18-7-22-4-23-1-19 3-15 6-6 5-5 5-8 14-6 20-5 27-2 34 0 36 3 31 4 23 3 10 5 9 9 12 6 6 9 5 19 7zM1175 3858l5 0 7-2 5-5 4-5 3-8 3-10 4-23 0-25-4-23-3-9-4-9-5-6-5-4-6-1-5 0-5 3-5 6-3 7-3 10-4 23 0 31 1 14 3 12 3 9 4 7 4 5zM865 3827l6 1 5 0 5-3 5-6 3-6 3-11 4-26 0-30-2-14-2-11-3-9-5-8-5-4-5-2-6 0-5 2-5 5-5 7-3 8-3 10-3 22 0 27 4 23 4 9 3 7 5 5zM1026 3590l10 1 8-1 8-2 7-3 5-5 4-5 2-6 2-8-1-10-2-7-3-8-5-6-6-7-7-4-9-3-8-2-8 0-8 1-8 3-6 4-5 5-4 6-3 8-2 7 0 8 2 8 3 6 4 6 6 5 7 4 8 3z" stroke="#0018ff" stroke-width="2.89"/>
<path d="M1018 4025l10-1 5-1 4-3 6-6 2-10-1-7-5-9-7-5-10-4-10 1-8 3-6 7-2 8 1 9 5 8 7 6zM1021 3902l22 0 18-3 8-3 6-4 11-11 8-14 6-20 4-26 2-31 0-33-3-28-5-23-8-18-10-13-13-9-18-8-21-4-21 0-18 3-8 3-6 4-11 10-7 14-7 21-4 26-2 31 0 33 3 28 5 23 7 17 11 14 13 9 18 8zM1175 3832l5 0 4-2 3-3 5-10 3-15 0-14-2-14-4-12-6-7-3-1-3 0-3 1-3 3-5 11-3 13 0 17 2 15 4 11 3 5zM869 3802l4 0 3-1 5-6 4-12 2-14 0-17-3-14-4-9-6-5-3 0-3 1-3 2-4 5-4 11-2 14 0 15 3 15 5 10 3 3zM1026 3576l10 1 9-4 7-6 2-7 0-9-5-9-6-6-10-4-10-1-8 3-7 7-3 9 1 9 4 8 7 6z" stroke="#0044ff" stroke-width="3.08"/>
<path d="M1019 3897l19 1 18-3 14-7 7-5 5-5 8-14 6-18 5-24 2-28 0-31-2-28-5-23-7-17-11-14-13-11-16-7-19-4-20-1-17 4-14 6-11 10-8 14-6 18-5 24-2 28 0 31 2 28 5 23 7 17 10 14 13 11 17 7z" stroke="#006cff" stroke-width="3.26"/>
<path d="M1017 3892l19 1 16-2 15-7 11-9 8-12 7-17 4-22 3-25 0-30-2-28-4-21-7-19-9-14-13-11-16-8-18-4-17-1-17 2-13 6-11 10-9 12-6 17-5 22-3 25 0 29 2 28 4 22 7 19 9 14 12 11 15 7z" stroke="#0094ff" stroke-width="3.45"/>
<path d="M1015 3888l18 1 16-2 13-5 11-9 9-12 7-15 5-19 3-23 1-28-2-27-4-23-7-19-8-14-12-12-14-8-18-5-16-1-16 2-13 5-12 9-8 12-7 15-4 19-4 23-1 28 2 27 4 23 6 19 9 14 11 11 15 9z" stroke="#00c0ff" stroke-width="3.64"/>
<path d="M1023 3884l16 0 15-4 13-7 10-11 7-15 6-19 3-21 2-25-1-25-3-22-6-19-7-14-9-12-13-9-15-7-16-3-16 1-15 4-11 8-10 11-7 14-6 18-3 22-2 25 1 25 3 22 6 18 6 14 10 13 12 9 14 6z" stroke="#02e8f4" stroke-width="3.83"/>
<path d="M1019 3880l16 0 14-3 12-5 10-9 8-13 6-15 5-21 2-21 0-24-2-23-5-20-7-16-8-12-11-11-13-7-16-4-15 0-14 3-13 6-10 10-8 12-5 16-5 20-2 22 0 25 3 21 4 19 6 16 9 12 11 11 13 7z" stroke="#23ffd4" stroke-width="4.01"/>
<path d="M1017 3875l14 1 13-2 13-5 10-8 8-12 7-14 4-17 3-21 0-23-1-22-4-18-6-18-9-14-10-10-13-7-14-4-15-1-13 2-11 5-11 9-7 11-7 15-4 18-3 20 0 22 1 22 4 18 6 17 9 14 10 10 11 7z" stroke="#46ffb1" stroke-width="4.2"/>
<path d="M1025 3872l13-1 13-4 11-7 8-10 7-12 5-17 3-19 2-20-1-22-3-19-5-15-7-14-9-11-10-8-13-6-12-3-15 1-12 3-11 7-9 11-7 13-5 16-3 19-2 20 1 22 3 18 5 16 7 14 9 11 11 9 13 6z" stroke="#66ff90" stroke-width="4.2"/>
<path d="M1021 3867l12 1 13-3 11-7 8-8 8-12 5-14 4-17 2-19-1-20-2-19-4-17-7-14-8-12-10-8-11-6-13-4-13 0-11 3-11 7-9 8-7 12-5 14-4 17-2 19 1 20 2 19 4 17 6 14 9 11 9 9 12 6z" stroke="#87ff70" stroke-width="4.2"/>
<path d="M1018 3863l13 1 12-3 9-5 9-7 8-11 5-13 4-15 3-17 0-19-2-19-3-15-6-15-7-12-9-9-11-7-12-4-11-1-12 3-11 5-8 7-8 11-5 12-4 16-3 17 0 19 2 18 3 16 6 14 7 12 9 10 11 7z" stroke="#aaff4d" stroke-width="4.2"/>
<path d="M1017 3858l11 1 11-1 10-5 10-7 7-10 5-12 4-14 3-16 0-18-1-18-4-15-5-14-6-11-9-9-10-8-11-3-10-1-12 1-9 5-10 7-7 10-5 12-4 14-3 16 0 17 1 17 3 15 5 15 7 11 8 10 9 7z" stroke="#caff2c" stroke-width="4.2"/>
<path d="M1026 3855l10-1 10-4 9-6 7-9 6-11 4-14 3-16 0-15-1-16-2-14-5-14-5-11-8-9-8-7-10-5-11-2-11 1-10 4-8 6-8 9-6 11-4 14-3 16 0 15 1 16 2 15 5 13 6 12 8 9 8 7 10 4z" stroke="#ebff0c" stroke-width="4.2"/>
<path d="M1023 3850l10 0 9-3 9-5 6-7 7-11 4-11 3-14 1-14 0-16-2-14-4-14-5-11-7-10-8-7-8-4-10-3-10 0-9 2-9 5-7 8-6 9-5 13-3 14-1 14 0 15 2 14 4 14 5 12 7 9 8 8 10 5z" stroke="#ffdb00" stroke-width="4.2"/>
<path d="M1023 3846l10-1 8-2 8-6 7-7 5-9 4-11 3-13 1-12 0-14-2-14-3-13-5-10-6-8-7-8-8-5-10-2-10-1-8 3-8 4-7 7-5 10-5 10-3 13-1 14 0 14 2 14 3 12 5 11 6 9 8 8 9 4z" stroke="#ffb600" stroke-width="4.2"/>
<path d="M1025 3841l8-1 8-3 7-4 6-7 5-9 4-10 2-13 1-12 0-13-2-12-4-11-4-10-7-9-6-6-8-4-8-2-9 0-8 3-8 5-6 7-5 9-4 10-2 13-1 12 0 12 2 13 3 11 6 11 6 8 7 6 7 4z" stroke="#ff9100" stroke-width="4.2"/>
<path d="M1018 3835l7 1 8-1 8-3 6-5 5-7 5-9 3-9 2-11 1-11-1-12-2-11-4-11-5-9-5-7-7-5-8-4-8-1-6 1-8 3-6 5-6 7-4 8-3 10-2 11-1 11 1 12 2 11 3 11 6 9 5 7 6 5z" stroke="#ff6800" stroke-width="4.2"/>
<path d="M1021 3830l7 0 8-2 7-4 5-5 4-7 4-8 2-10 1-9-1-20-2-10-4-9-5-8-6-6-6-4-7-2-8 0-6 2-7 4-5 5-5 7-3 8-3 19 1 20 2 9 4 10 5 8 6 6 6 4z" stroke="#ff4300" stroke-width="4.2"/>
<path d="M1020 3824l7 1 4-1 7-3 5-4 4-6 4-6 3-9 1-10 0-18-3-10-3-7-3-7-6-6-5-4-6-2-6-1-6 2-5 2-6 5-4 5-3 7-3 8-1 9 0 19 2 9 3 8 4 6 5 6 5 4z" stroke="#ff1e00" stroke-width="4.2"/>
<path d="M1021 3818l6 0 4-1 5-2 5-4 7-11 3-15 0-16-5-15-3-5-5-6-5-3-5-2-5 0-5 1-4 2-5 4-7 11-3 15 0 15 5 15 3 6 5 5 5 4z" stroke="#da0000" stroke-width="4.2"/>
<path d="M1021 3810l4 1 5-1 8-5 5-8 3-12 0-13-4-12-6-9-8-5-8 0-7 5-6 8-3 12 0 12 3 13 7 9z" stroke="#ad0000" stroke-width="4.2"/>
<path d="M1023 3800l5 0 7-4 3-6 2-8-1-10-2-7-5-7-5-3-7 1-5 4-3 6-2 8 1 9 2 8 4 6z" stroke="#800000" stroke-width="4.2"/>
</g></g>
<rect x="28.8" y="325.1" width="145.6" height="108.8" fill="none" stroke="#3a3a3a" stroke-width="0.75"/>
<rect x="211.4" y="325.45" width="145.5" height="107.95" fill="#fff"/>
<text x="227.71" y="443.9" text-anchor="middle" font-size="7.0">-0.6</text>
<text x="246.29" y="443.9" text-anchor="middle" font-size="7.0">-0.4</text>
<text x="264.87" y="443.9" text-anchor="middle" font-size="7.0">-0.2</text>
<text x="283.45" y="443.9" text-anchor="middle" font-size="7.0">0</text>
<text x="302.03" y="443.9" text-anchor="middle" font-size="7.0">0.2</text>
<text x="320.61" y="443.9" text-anchor="middle" font-size="7.0">0.4</text>
<text x="339.19" y="443.9" text-anchor="middle" font-size="7.0">0.6</text>
<text x="209" y="328.2" text-anchor="end" font-size="7.0">0</text>
<text x="209" y="355.19" text-anchor="end" font-size="7.0">-10</text>
<text x="209" y="382.17" text-anchor="end" font-size="7.0">-20</text>
<text x="209" y="409.16" text-anchor="end" font-size="7.0">-30</text>
<text x="209" y="436.15" text-anchor="end" font-size="7.0">-40</text>
<path d="M227.71 433.4v-1.6M227.71 325.45v1.6M246.29 433.4v-1.6M246.29 325.45v1.6M264.87 433.4v-1.6M264.87 325.45v1.6M283.45 433.4v-1.6M283.45 325.45v1.6M302.03 433.4v-1.6M302.03 325.45v1.6M320.61 433.4v-1.6M320.61 325.45v1.6M339.19 433.4v-1.6M339.19 325.45v1.6M211.4 325.45h1.6M356.9 325.45h-1.6M211.4 352.44h1.6M356.9 352.44h-1.6M211.4 379.42h1.6M356.9 379.42h-1.6M211.4 406.41h1.6M356.9 406.41h-1.6M211.4 433.4h1.6M356.9 433.4h-1.6" stroke="#3a3a3a" stroke-width="0.7" fill="none"/>
<text x="283.9" y="453.3" text-anchor="middle" font-size="7.9">Azimuth (m)</text>
<text transform="translate(194.7 379.3) rotate(-90)" text-anchor="middle" font-size="8.0">Amplitude (dB)</text>
<text x="280.1" y="469.8" text-anchor="middle" class="cap"><tspan class="pr">(</tspan>h<tspan class="pr">)</tspan></text>
<clipPath id="ch"><rect x="211.4" y="325.45" width="145.5" height="107.95"/></clipPath>
<g clip-path="url(#ch)"><path transform="scale(0.1)" d="M2114 4141l2 0 3 2 5 9 4 18 5 25 4 31 3 40 6 98 19 0 4-74 3-55 5-49 5-42 5-31 6-19 3-5 3-3 3 0 3 4 5 11 4 18 4 26 4 30 6 81 5 107 0 1 15 0 3-81 4-69 4-59 5-47 5-37 7-26 3-9 3-5 3-2 3 2 3 4 3 6 5 20 4 29 5 38 4 49 3 53 5 133 0 1 11 0 3-104 4-70 4-65 5-55 5-46 7-32 3-11 4-7 3-3 4 0 2 4 3 5 4 16 5 26 4 32 5 56 4 70 3 80 3 104 9 0 3-115 3-85 4-76 5-63 6-53 7-38 3-13 4-9 4-4 1-1 2 1 3 3 3 6 6 20 5 32 4 42 5 62 4 80 3 92 2 119 7 0 2-128 3-97 4-87 5-76 6-63 7-44 4-16 4-11 4-6 2-1 2 0 3 4 4 6 3 11 3 15 6 38 4 52 5 71 3 92 3 109 2 131 5 0 2-151 3-119 4-99 5-85 6-72 8-52 4-19 4-12 4-8 3-1 2 0 3 3 4 9 3 12 4 18 6 48 5 62 4 84 3 103 2 122 2 149 0 8 3 0 2-197 2-136 4-117 5-97 7-86 4-34 5-30 4-23 5-17 5-9 2-2 3 0 2 1 2 3 4 10 3 15 4 20 6 55 4 77 4 82 2 103 2 147 1 235 2 0 2-289 3-209 6-168 3-76 5-68 6-68 6-58 8-52 8-43 9-34 9-25 5-9 5-6 4-3 5-1 5 1 5 4 5 6 4 9 10 26 8 34 9 45 7 51 6 59 6 65 4 66 4 75 6 166 3 204 2 298 1 0 1-9 1-215 2-153 2-104 4-89 5-76 5-54 4-20 3-15 4-9 2-3 2-1 3 0 2 2 5 10 5 17 5 23 4 30 4 34 7 87 5 99 4 119 2 140 2 187 3 0 2-167 2-118 3-101 4-82 6-64 5-45 4-18 3-12 4-8 3-3 3 0 2 1 4 8 4 13 4 19 8 52 6 73 6 86 3 101 3 109 3 156 4 0 0-5 2-133 3-99 3-88 5-77 4-52 6-39 3-15 3-10 4-8 3-3 2 0 2 1 4 6 4 11 4 15 7 45 6 62 5 76 4 85 3 96 2 132 7 0 0-3 2-112 3-94 4-80 5-66 4-41 6-31 5-20 3-6 3-3 2-1 2 1 3 5 4 9 4 13 7 40 5 52 5 63 4 78 3 86 3 110 9 0 3-108 3-79 4-69 5-55 4-32 5-25 5-17 2-5 3-3 3 0 4 3 3 8 3 11 7 32 6 46 4 56 5 66 3 78 3 93 11 0 5-137 3-53 4-47 5-38 5-30 5-19 2-6 3-4 3-1 4 3 3 5 3 9 6 27 5 39 5 48 4 57 4 69 3 78 15 0 5-110 6-82 4-32 5-25 4-18 5-9 3-2 3 0 3 4 3 6 6 21 5 32 5 40 4 51 4 57 3 67 19 0 4-77 5-60 6-44 4-17 3-13 3-7 3-4 3-1 3 1 3 4 2 7 6 22" fill="none" stroke="#0072BD" stroke-width="2.3000000000000003" stroke-linejoin="round"/></g>
<rect x="211.4" y="325.45" width="145.5" height="107.95" fill="none" stroke="#3a3a3a" stroke-width="0.75"/>
<rect x="395.2" y="325.45" width="144.6" height="107.35" fill="#fff"/>
<text x="398.22" y="442.8" text-anchor="middle" font-size="7.0">-2</text>
<text x="432.81" y="442.8" text-anchor="middle" font-size="7.0">-1</text>
<text x="467.4" y="442.8" text-anchor="middle" font-size="7.0">0</text>
<text x="501.99" y="442.8" text-anchor="middle" font-size="7.0">1</text>
<text x="536.58" y="442.8" text-anchor="middle" font-size="7.0">2</text>
<text x="392.8" y="328.2" text-anchor="end" font-size="7.0">0</text>
<text x="392.8" y="355.04" text-anchor="end" font-size="7.0">-10</text>
<text x="392.8" y="381.88" text-anchor="end" font-size="7.0">-20</text>
<text x="392.8" y="408.71" text-anchor="end" font-size="7.0">-30</text>
<text x="392.8" y="435.55" text-anchor="end" font-size="7.0">-40</text>
<path d="M398.22 432.8v-1.6M398.22 325.45v1.6M432.81 432.8v-1.6M432.81 325.45v1.6M467.4 432.8v-1.6M467.4 325.45v1.6M501.99 432.8v-1.6M501.99 325.45v1.6M536.58 432.8v-1.6M536.58 325.45v1.6M395.2 325.45h1.6M539.8 325.45h-1.6M395.2 352.29h1.6M539.8 352.29h-1.6M395.2 379.12h1.6M539.8 379.12h-1.6M395.2 405.96h1.6M539.8 405.96h-1.6M395.2 432.8h1.6M539.8 432.8h-1.6" stroke="#3a3a3a" stroke-width="0.7" fill="none"/>
<text x="467.1" y="453.1" text-anchor="middle" font-size="7.9">Range (m)</text>
<text transform="translate(379 379.1) rotate(-90)" text-anchor="middle" font-size="7.9">Amplitude (dB)</text>
<text x="463.4" y="469.5" text-anchor="middle" class="cap"><tspan class="pr">(</tspan>i<tspan class="pr">)</tspan></text>
<clipPath id="ci"><rect x="395.2" y="325.45" width="144.6" height="107.35"/></clipPath>
<g clip-path="url(#ci)"><path transform="scale(0.1)" d="M3982 4358l13 0 2-42 3-28 3-18 2-5 2-2 1 2 2 4 3 18 5 71 18 0 4-56 3-36 3-23 2-6 2-2 1 2 2 5 3 24 3 37 3 55 16 0 3-64 4-49 4-30 2-6 2-3 2 3 2 7 3 29 4 47 3 66 13 0 4-79 3-54 4-36 2-9 3-3 2 3 2 9 4 34 4 55 3 80 12 0 3-87 4-68 4-41 2-11 2-3 1-1 2 4 3 10 4 43 3 63 3 91 11 0 3-104 4-74 5-47 2-12 2-3 1-1 1 1 2 3 2 12 4 45 4 72 3 108 9 0 4-121 4-80 5-53 2-15 2-3 1-1 2 1 1 4 3 13 4 56 4 82 3 117 8 0 3-131 4-95 5-59 3-16 2-4 1-2 2 1 1 4 3 14 3 27 2 34 4 94 3 133 7 0 3-148 4-103 2-39 3-30 3-18 2-4 1-1 2 2 1 4 3 18 3 29 3 37 3 104 3 149 6 0 3-167 4-112 3-45 3-33 3-19 2-5 2-2 1 2 1 4 3 13 5 56 5 123 3 185 5 0 3-187 4-124 3-49 3-37 3-23 2-5 2-2 2 2 1 4 3 17 2 29 3 36 4 131 3 202 1 6 3 0 3-199 5-148 3-57 3-40 3-26 2-6 2-2 2 2 1 5 4 21 2 33 3 46 4 148 3 223 3 0 2-213 4-160 3-65 3-47 4-34 3-19 2-2 2 1 2 6 2 11 3 32 3 50 4 132 3 211 3 0 3-233 5-156 5-88 4-30 3-15 2-3 1 1 2 6 2 10 3 32 3 47 4 132 3 203 3 0 3-235 5-169 6-96 3-31 3-20 2-4 2-1 2 3 1 7 3 23 3 35 2 55 2 74 3 198 3 0 2-187 3-136 3-117 5-102 6-89 7-65 4-25 4-17 4-10 2-3 2 0 2 0 2 3 4 10 4 17 4 25 7 65 6 89 5 102 3 116 3 136 2 188 3 0 3-198 2-73 2-56 3-35 3-23 1-7 2-3 2 1 2 4 3 20 3 31 6 96 5 168 3 236 3 0 3-203 4-132 3-47 3-32 2-10 2-6 1-1 2 3 3 15 4 30 5 88 5 156 3 233 3 0 3-211 4-132 3-50 3-32 2-11 2-6 2-1 2 2 3 19 4 34 3 47 3 65 4 160 2 213 3 0 3-223 4-148 3-46 2-33 4-21 1-5 2-2 2 2 2 6 3 26 3 40 3 57 5 148 3 199 3 0 1-6 3-201 4-132 3-36 2-29 3-17 1-4 2-2 2 2 2 5 3 23 3 37 3 49 4 124 3 187 5 0 3-185 5-123 5-56 3-13 1-4 1-2 2 2 2 5 3 19 3 32 3 45 4 113 3 167 5 0 4-149 3-104 3-37 3-29 3-18 1-4 2-2 1 1 2 4 3 18 3 30 2 38 4 103 3 149 7 0 3-133 4-94 2-34 3-27 3-14 1-4 2-1 1 2 2 4 3 16 5 59 4 95 3 131 8 0 3-117 4-82 4-56 3-13 1-4 2-1 1 1 2 3 2 15 5 52 4 81 4 121 9 0 3-108 4-72 4-45 2-12 2-3 1-1 1 1 2 3 2 12 5 47 4 74 3 104 11 0 3-91 3-63 4-43 3-10 2-4 1 1 2 3 2 11 4 41 4 68 3 87 12 0 3-79 4-56 4-34 2-9 2-3 3 3 2 9 4 36 3 54 4 79 13 0 3-66 4-46 3-30 2-7 2-3 2 3 2 6 4 30 4 48 3 65 16 0 3-55 3-37 3-24 2-5 1-2 2 2 2 6 3 23 3 36 4 56 18 0 5-71 3-18 2-4 1-2 2 2 2 5 3 18 3 28 2 42 16 0" fill="none" stroke="#0072BD" stroke-width="2.3000000000000003" stroke-linejoin="round"/></g>
<rect x="395.2" y="325.45" width="144.6" height="107.35" fill="none" stroke="#3a3a3a" stroke-width="0.75"/>
</svg>
</body></html>
